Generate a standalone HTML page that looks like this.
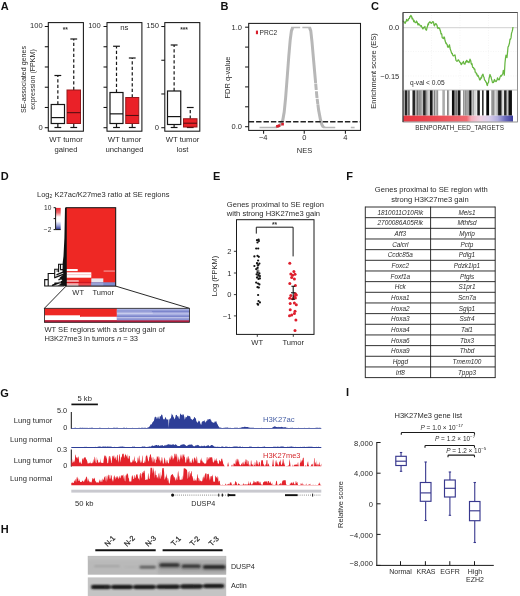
<!DOCTYPE html>
<html lang="en"><head><meta charset="utf-8"><title>Figure</title>
<style>html,body{margin:0;padding:0;background:#fff;}body{width:520px;height:596px;overflow:hidden;}svg{display:block;font-family:"Liberation Sans",Arial,Helvetica,sans-serif;fill:#2b2b2b;}</style></head><body>
<svg width="520" height="596" viewBox="0 0 520 596">
<rect width="520" height="596" fill="#fff"/>
<text x="0.70" y="9.80" font-size="11" font-weight="bold" fill="#111" >A</text>
<text x="220.40" y="9.90" font-size="11" font-weight="bold" fill="#111" >B</text>
<text x="371.00" y="9.80" font-size="11" font-weight="bold" fill="#111" >C</text>
<text x="0.80" y="180.00" font-size="11" font-weight="bold" fill="#111" >D</text>
<text x="213.00" y="180.00" font-size="11" font-weight="bold" fill="#111" >E</text>
<text x="346.30" y="180.30" font-size="11" font-weight="bold" fill="#111" >F</text>
<text x="0.30" y="397.00" font-size="11" font-weight="bold" fill="#111" >G</text>
<text x="0.80" y="532.50" font-size="11" font-weight="bold" fill="#111" >H</text>
<text x="346.00" y="396.30" font-size="11" font-weight="bold" fill="#111" >I</text>
<g id="panelA">
<rect x="48.30" y="22.60" width="35.10" height="108.60" fill="none" stroke="#151515" stroke-width="1.05" />
<rect x="107.00" y="22.60" width="34.90" height="108.60" fill="none" stroke="#151515" stroke-width="1.05" />
<rect x="164.80" y="22.60" width="35.00" height="108.60" fill="none" stroke="#151515" stroke-width="1.05" />
<line x1="44.80" y1="127.70" x2="48.30" y2="127.70" stroke="#151515" stroke-width="1.05" />
<line x1="44.80" y1="107.46" x2="48.30" y2="107.46" stroke="#151515" stroke-width="1.05" />
<line x1="44.80" y1="87.22" x2="48.30" y2="87.22" stroke="#151515" stroke-width="1.05" />
<line x1="44.80" y1="66.98" x2="48.30" y2="66.98" stroke="#151515" stroke-width="1.05" />
<line x1="44.80" y1="46.74" x2="48.30" y2="46.74" stroke="#151515" stroke-width="1.05" />
<line x1="44.80" y1="26.50" x2="48.30" y2="26.50" stroke="#151515" stroke-width="1.05" />
<line x1="103.50" y1="127.70" x2="107.00" y2="127.70" stroke="#151515" stroke-width="1.05" />
<line x1="103.50" y1="107.46" x2="107.00" y2="107.46" stroke="#151515" stroke-width="1.05" />
<line x1="103.50" y1="87.22" x2="107.00" y2="87.22" stroke="#151515" stroke-width="1.05" />
<line x1="103.50" y1="66.98" x2="107.00" y2="66.98" stroke="#151515" stroke-width="1.05" />
<line x1="103.50" y1="46.74" x2="107.00" y2="46.74" stroke="#151515" stroke-width="1.05" />
<line x1="103.50" y1="26.50" x2="107.00" y2="26.50" stroke="#151515" stroke-width="1.05" />
<line x1="161.30" y1="127.70" x2="164.80" y2="127.70" stroke="#151515" stroke-width="1.05" />
<line x1="161.30" y1="93.97" x2="164.80" y2="93.97" stroke="#151515" stroke-width="1.05" />
<line x1="161.30" y1="60.24" x2="164.80" y2="60.24" stroke="#151515" stroke-width="1.05" />
<line x1="161.30" y1="26.51" x2="164.80" y2="26.51" stroke="#151515" stroke-width="1.05" />
<text x="42.70" y="28.30" font-size="7.6" text-anchor="end" >100</text>
<text x="42.70" y="130.00" font-size="7.6" text-anchor="end" >0</text>
<text x="100.80" y="28.30" font-size="7.6" text-anchor="end" >100</text>
<text x="159.00" y="28.30" font-size="7.6" text-anchor="end" >150</text>
<text x="159.00" y="130.00" font-size="7.6" text-anchor="end" >0</text>
<line x1="57.85" y1="104.50" x2="57.85" y2="75.50" stroke="#151515" stroke-width="1.2" stroke-dasharray="3.3 2.2"/>
<line x1="57.85" y1="123.50" x2="57.85" y2="127.50" stroke="#151515" stroke-width="1.2" />
<line x1="54.45" y1="75.50" x2="61.25" y2="75.50" stroke="#151515" stroke-width="1.2" />
<line x1="54.45" y1="127.50" x2="61.25" y2="127.50" stroke="#151515" stroke-width="1.2" />
<rect x="51.20" y="104.50" width="13.30" height="19.00" fill="#fff" stroke="#151515" stroke-width="1.2" />
<line x1="51.20" y1="117.60" x2="64.50" y2="117.60" stroke="#151515" stroke-width="1.2" />
<line x1="73.75" y1="90.00" x2="73.75" y2="39.00" stroke="#151515" stroke-width="1.2" stroke-dasharray="3.3 2.2"/>
<line x1="73.75" y1="123.50" x2="73.75" y2="127.50" stroke="#151515" stroke-width="1.2" />
<line x1="70.35" y1="39.00" x2="77.15" y2="39.00" stroke="#151515" stroke-width="1.2" />
<line x1="70.35" y1="127.50" x2="77.15" y2="127.50" stroke="#151515" stroke-width="1.2" />
<rect x="67.00" y="90.00" width="13.50" height="33.50" fill="#ea2128" stroke="#96181b" stroke-width="1.0" />
<line x1="67.00" y1="112.70" x2="80.50" y2="112.70" stroke="#4a0d0f" stroke-width="1.0" />
<line x1="116.50" y1="92.50" x2="116.50" y2="46.25" stroke="#151515" stroke-width="1.2" stroke-dasharray="3.3 2.2"/>
<line x1="116.50" y1="123.50" x2="116.50" y2="127.50" stroke="#151515" stroke-width="1.2" />
<line x1="113.10" y1="46.25" x2="119.90" y2="46.25" stroke="#151515" stroke-width="1.2" />
<line x1="113.10" y1="127.50" x2="119.90" y2="127.50" stroke="#151515" stroke-width="1.2" />
<rect x="110.00" y="92.50" width="13.00" height="31.00" fill="#fff" stroke="#151515" stroke-width="1.2" />
<line x1="110.00" y1="113.85" x2="123.00" y2="113.85" stroke="#151515" stroke-width="1.2" />
<line x1="132.25" y1="97.50" x2="132.25" y2="58.00" stroke="#151515" stroke-width="1.2" stroke-dasharray="3.3 2.2"/>
<line x1="132.25" y1="123.50" x2="132.25" y2="127.50" stroke="#151515" stroke-width="1.2" />
<line x1="128.85" y1="58.00" x2="135.65" y2="58.00" stroke="#151515" stroke-width="1.2" />
<line x1="128.85" y1="127.50" x2="135.65" y2="127.50" stroke="#151515" stroke-width="1.2" />
<rect x="125.75" y="97.50" width="13.00" height="26.00" fill="#ea2128" stroke="#96181b" stroke-width="1.0" />
<line x1="125.75" y1="115.45" x2="138.75" y2="115.45" stroke="#4a0d0f" stroke-width="1.0" />
<line x1="174.12" y1="91.00" x2="174.12" y2="45.00" stroke="#151515" stroke-width="1.2" stroke-dasharray="3.3 2.2"/>
<line x1="174.12" y1="124.50" x2="174.12" y2="127.50" stroke="#151515" stroke-width="1.2" />
<line x1="170.72" y1="45.00" x2="177.53" y2="45.00" stroke="#151515" stroke-width="1.2" />
<line x1="170.72" y1="127.50" x2="177.53" y2="127.50" stroke="#151515" stroke-width="1.2" />
<rect x="167.50" y="91.00" width="13.25" height="33.50" fill="#fff" stroke="#151515" stroke-width="1.2" />
<line x1="167.50" y1="116.60" x2="180.75" y2="116.60" stroke="#151515" stroke-width="1.2" />
<line x1="190.25" y1="118.75" x2="190.25" y2="107.50" stroke="#151515" stroke-width="1.2" stroke-dasharray="3.3 2.2"/>
<line x1="190.25" y1="127.00" x2="190.25" y2="127.50" stroke="#151515" stroke-width="1.2" />
<line x1="186.85" y1="107.50" x2="193.65" y2="107.50" stroke="#151515" stroke-width="1.2" />
<line x1="186.85" y1="127.50" x2="193.65" y2="127.50" stroke="#151515" stroke-width="1.2" />
<rect x="183.50" y="118.75" width="13.50" height="8.25" fill="#ea2128" stroke="#96181b" stroke-width="1.0" />
<line x1="183.50" y1="123.20" x2="197.00" y2="123.20" stroke="#4a0d0f" stroke-width="1.0" />
<text x="65.20" y="31.60" font-size="6.6" text-anchor="middle" font-weight="bold" fill="#333" >**</text>
<text x="124.30" y="30.00" font-size="7.8" text-anchor="middle" >ns</text>
<text x="184.10" y="31.60" font-size="6.6" text-anchor="middle" font-weight="bold" fill="#333" >***</text>
<text x="66.00" y="142.30" font-size="7.7" text-anchor="middle" >WT tumor</text>
<text x="66.00" y="151.60" font-size="7.7" text-anchor="middle" >gained</text>
<text x="124.50" y="142.30" font-size="7.7" text-anchor="middle" >WT tumor</text>
<text x="124.50" y="151.60" font-size="7.7" text-anchor="middle" >unchanged</text>
<text x="182.50" y="142.30" font-size="7.7" text-anchor="middle" >WT tumor</text>
<text x="182.50" y="151.60" font-size="7.7" text-anchor="middle" >lost</text>
<text x="26.20" y="79.50" font-size="7.1" text-anchor="middle" transform="rotate(-90 26.20 79.50)" >SE-associated genes</text>
<text x="35.00" y="79.50" font-size="7.1" text-anchor="middle" transform="rotate(-90 35.00 79.50)" >expression (FPKM)</text>
</g>
<g id="panelB">
<path d="M259.55 127.50h2.9M260.00 127.50h2.9M260.46 127.50h2.9M260.91 127.50h2.9M261.36 127.50h2.9M261.82 127.50h2.9M262.27 127.50h2.9M262.72 127.50h2.9M263.18 127.50h2.9M263.63 127.50h2.9M264.08 127.50h2.9M264.53 127.50h2.9M264.99 127.50h2.9M265.44 127.50h2.9M265.89 127.50h2.9M266.35 127.50h2.9M266.80 127.50h2.9M267.25 127.50h2.9M267.71 127.50h2.9M268.16 127.50h2.9M268.61 127.50h2.9M269.07 127.50h2.9M269.52 127.50h2.9M269.97 127.50h2.9M270.43 127.50h2.9M270.88 127.50h2.9M271.33 127.50h2.9M271.78 127.50h2.9M272.24 127.50h2.9M272.69 127.50h2.9M273.14 127.50h2.9M273.60 127.50h2.9M274.05 127.50h2.9M274.05 127.50h2.9M274.55 127.35h2.9M275.05 127.20h2.9M275.55 127.05h2.9M276.05 126.90h2.9M276.55 126.75h2.9M277.05 126.60h2.9M277.05 126.60h2.9M277.36 126.27h2.9M277.68 125.95h2.9M277.99 125.62h2.9M278.30 125.30h2.9M278.61 124.97h2.9M278.93 124.65h2.9M279.24 124.33h2.9M279.55 124.00h2.9M279.55 124.00h2.9M279.75 123.56h2.9M279.95 123.11h2.9M280.15 122.67h2.9M280.35 122.22h2.9M280.55 121.78h2.9M280.75 121.33h2.9M280.95 120.89h2.9M281.15 120.44h2.9M281.35 120.00h2.9M281.35 120.00h2.9M281.43 119.56h2.9M281.51 119.11h2.9M281.58 118.67h2.9M281.66 118.22h2.9M281.74 117.78h2.9M281.82 117.33h2.9M281.89 116.89h2.9M281.97 116.44h2.9M282.05 116.00h2.9M282.13 115.56h2.9M282.21 115.11h2.9M282.28 114.67h2.9M282.36 114.22h2.9M282.44 113.78h2.9M282.52 113.33h2.9M282.59 112.89h2.9M282.67 112.44h2.9M282.75 112.00h2.9M282.75 112.00h2.9M282.80 111.55h2.9M282.84 111.10h2.9M282.89 110.65h2.9M282.93 110.19h2.9M282.98 109.74h2.9M283.02 109.29h2.9M283.07 108.84h2.9M283.11 108.39h2.9M283.16 107.94h2.9M283.20 107.48h2.9M283.25 107.03h2.9M283.29 106.58h2.9M283.34 106.13h2.9M283.38 105.68h2.9M283.43 105.23h2.9M283.47 104.77h2.9M283.52 104.32h2.9M283.56 103.87h2.9M283.61 103.42h2.9M283.65 102.97h2.9M283.70 102.52h2.9M283.74 102.06h2.9M283.79 101.61h2.9M283.83 101.16h2.9M283.88 100.71h2.9M283.92 100.26h2.9M283.97 99.81h2.9M284.01 99.35h2.9M284.06 98.90h2.9M284.10 98.45h2.9M284.15 98.00h2.9M284.15 98.00h2.9M284.18 97.55h2.9M284.22 97.10h2.9M284.25 96.65h2.9M284.29 96.20h2.9M284.32 95.76h2.9M284.36 95.31h2.9M284.39 94.86h2.9M284.43 94.41h2.9M284.46 93.96h2.9M284.50 93.51h2.9M284.53 93.06h2.9M284.57 92.61h2.9M284.60 92.16h2.9M284.64 91.71h2.9M284.67 91.27h2.9M284.71 90.82h2.9M284.74 90.37h2.9M284.77 89.92h2.9M284.81 89.47h2.9M284.84 89.02h2.9M284.88 88.57h2.9M284.91 88.12h2.9M284.95 87.67h2.9M284.98 87.22h2.9M285.02 86.78h2.9M285.05 86.33h2.9M285.09 85.88h2.9M285.12 85.43h2.9M285.16 84.98h2.9M285.19 84.53h2.9M285.23 84.08h2.9M285.26 83.63h2.9M285.29 83.18h2.9M285.33 82.73h2.9M285.36 82.29h2.9M285.40 81.84h2.9M285.43 81.39h2.9M285.47 80.94h2.9M285.50 80.49h2.9M285.54 80.04h2.9M285.57 79.59h2.9M285.61 79.14h2.9M285.64 78.69h2.9M285.68 78.24h2.9M285.71 77.80h2.9M285.75 77.35h2.9M285.78 76.90h2.9M285.82 76.45h2.9M285.85 76.00h2.9M285.85 76.00h2.9M285.88 75.55h2.9M285.92 75.09h2.9M285.95 74.64h2.9M285.99 74.18h2.9M286.02 73.73h2.9M286.05 73.27h2.9M286.09 72.82h2.9M286.12 72.36h2.9M286.16 71.91h2.9M286.19 71.45h2.9M286.23 71.00h2.9M286.26 70.55h2.9M286.29 70.09h2.9M286.33 69.64h2.9M286.36 69.18h2.9M286.40 68.73h2.9M286.43 68.27h2.9M286.46 67.82h2.9M286.50 67.36h2.9M286.53 66.91h2.9M286.57 66.45h2.9M286.60 66.00h2.9M286.63 65.55h2.9M286.67 65.09h2.9M286.70 64.64h2.9M286.74 64.18h2.9M286.77 63.73h2.9M286.80 63.27h2.9M286.84 62.82h2.9M286.87 62.36h2.9M286.91 61.91h2.9M286.94 61.45h2.9M286.98 61.00h2.9M287.01 60.55h2.9M287.04 60.09h2.9M287.08 59.64h2.9M287.11 59.18h2.9M287.15 58.73h2.9M287.18 58.27h2.9M287.21 57.82h2.9M287.25 57.36h2.9M287.28 56.91h2.9M287.32 56.45h2.9M287.35 56.00h2.9M287.35 56.00h2.9M287.39 55.54h2.9M287.43 55.09h2.9M287.47 54.63h2.9M287.51 54.17h2.9M287.55 53.71h2.9M287.59 53.26h2.9M287.63 52.80h2.9M287.67 52.34h2.9M287.71 51.89h2.9M287.75 51.43h2.9M287.79 50.97h2.9M287.83 50.51h2.9M287.87 50.06h2.9M287.91 49.60h2.9M287.95 49.14h2.9M287.99 48.69h2.9M288.03 48.23h2.9M288.07 47.77h2.9M288.11 47.31h2.9M288.15 46.86h2.9M288.19 46.40h2.9M288.23 45.94h2.9M288.27 45.49h2.9M288.31 45.03h2.9M288.35 44.57h2.9M288.39 44.11h2.9M288.43 43.66h2.9M288.47 43.20h2.9M288.51 42.74h2.9M288.55 42.29h2.9M288.59 41.83h2.9M288.63 41.37h2.9M288.67 40.91h2.9M288.71 40.46h2.9M288.75 40.00h2.9M288.75 40.00h2.9M288.81 39.55h2.9M288.87 39.10h2.9M288.93 38.65h2.9M288.99 38.20h2.9M289.05 37.75h2.9M289.11 37.30h2.9M289.17 36.85h2.9M289.23 36.40h2.9M289.29 35.95h2.9M289.35 35.50h2.9M289.41 35.05h2.9M289.47 34.60h2.9M289.53 34.15h2.9M289.59 33.70h2.9M289.65 33.25h2.9M289.71 32.80h2.9M289.77 32.35h2.9M289.83 31.90h2.9M289.89 31.45h2.9M289.95 31.00h2.9M289.95 31.00h2.9M290.10 30.57h2.9M290.25 30.15h2.9M290.40 29.73h2.9M290.55 29.30h2.9M290.70 28.88h2.9M290.85 28.45h2.9M291.00 28.03h2.9M291.15 27.60h2.9M291.15 27.60h2.9M291.62 27.60h2.9M292.09 27.60h2.9M292.56 27.60h2.9M293.03 27.60h2.9M293.50 27.60h2.9M293.97 27.60h2.9M294.43 27.60h2.9M294.90 27.60h2.9M295.37 27.60h2.9M295.84 27.60h2.9M296.31 27.60h2.9M296.78 27.60h2.9M297.25 27.60h2.9" fill="none" stroke="#b7b7b7" stroke-width="1.5" />
<path d="M302.35 27.60h2.9M302.83 27.60h2.9M303.32 27.60h2.9M303.80 27.60h2.9M304.28 27.60h2.9M304.77 27.60h2.9M305.25 27.60h2.9M305.73 27.60h2.9M306.22 27.60h2.9M306.70 27.60h2.9M307.18 27.60h2.9M307.67 27.60h2.9M308.15 27.60h2.9M308.15 27.60h2.9M308.30 28.03h2.9M308.45 28.45h2.9M308.60 28.88h2.9M308.75 29.30h2.9M308.90 29.73h2.9M309.05 30.15h2.9M309.20 30.57h2.9M309.35 31.00h2.9M309.35 31.00h2.9M309.40 31.46h2.9M309.45 31.92h2.9M309.50 32.38h2.9M309.55 32.83h2.9M309.60 33.29h2.9M309.65 33.75h2.9M309.70 34.21h2.9M309.75 34.67h2.9M309.80 35.12h2.9M309.85 35.58h2.9M309.90 36.04h2.9M309.95 36.50h2.9M310.00 36.96h2.9M310.05 37.42h2.9M310.10 37.88h2.9M310.15 38.33h2.9M310.20 38.79h2.9M310.25 39.25h2.9M310.30 39.71h2.9M310.35 40.17h2.9M310.40 40.62h2.9M310.45 41.08h2.9M310.50 41.54h2.9M310.55 42.00h2.9M310.55 42.00h2.9M310.59 42.46h2.9M310.63 42.91h2.9M310.67 43.37h2.9M310.71 43.83h2.9M310.75 44.29h2.9M310.79 44.74h2.9M310.83 45.20h2.9M310.87 45.66h2.9M310.91 46.11h2.9M310.95 46.57h2.9M310.99 47.03h2.9M311.03 47.49h2.9M311.07 47.94h2.9M311.11 48.40h2.9M311.15 48.86h2.9M311.19 49.31h2.9M311.23 49.77h2.9M311.27 50.23h2.9M311.31 50.69h2.9M311.35 51.14h2.9M311.39 51.60h2.9M311.43 52.06h2.9M311.47 52.51h2.9M311.51 52.97h2.9M311.55 53.43h2.9M311.59 53.89h2.9M311.63 54.34h2.9M311.67 54.80h2.9M311.71 55.26h2.9M311.75 55.71h2.9M311.79 56.17h2.9M311.83 56.63h2.9M311.87 57.09h2.9M311.91 57.54h2.9M311.95 58.00h2.9M311.95 58.00h2.9M311.99 58.45h2.9M312.03 58.90h2.9M312.07 59.35h2.9M312.11 59.80h2.9M312.15 60.25h2.9M312.19 60.70h2.9M312.23 61.15h2.9M312.27 61.60h2.9M312.31 62.05h2.9M312.35 62.50h2.9M312.39 62.95h2.9M312.43 63.40h2.9M312.47 63.85h2.9M312.51 64.30h2.9M312.55 64.75h2.9M312.59 65.20h2.9M312.63 65.65h2.9M312.67 66.10h2.9M312.71 66.55h2.9M312.75 67.00h2.9M312.79 67.45h2.9M312.83 67.90h2.9M312.87 68.35h2.9M312.91 68.80h2.9M312.95 69.25h2.9M312.99 69.70h2.9M313.03 70.15h2.9M313.07 70.60h2.9M313.11 71.05h2.9M313.15 71.50h2.9M313.19 71.95h2.9M313.23 72.40h2.9M313.27 72.85h2.9M313.31 73.30h2.9M313.35 73.75h2.9M313.39 74.20h2.9M313.43 74.65h2.9M313.47 75.10h2.9M313.51 75.55h2.9M313.55 76.00h2.9M313.55 76.00h2.9M313.59 76.45h2.9M313.63 76.91h2.9M313.67 77.36h2.9M313.71 77.82h2.9M313.75 78.27h2.9M313.80 78.73h2.9M313.84 79.18h2.9M313.88 79.64h2.9M313.92 80.09h2.9M313.96 80.55h2.9M314.00 81.00h2.9M314.04 81.45h2.9M314.08 81.91h2.9M314.12 82.36h2.9M314.29 84.18h2.9M314.33 84.64h2.9M314.37 85.09h2.9M314.41 85.55h2.9M314.45 86.00h2.9M314.49 86.45h2.9M314.53 86.91h2.9M314.57 87.36h2.9M314.61 87.82h2.9M314.65 88.27h2.9M314.70 88.73h2.9M314.74 89.18h2.9M314.98 91.91h2.9M315.02 92.36h2.9M315.06 92.82h2.9M315.10 93.27h2.9M315.15 93.73h2.9M315.19 94.18h2.9M315.23 94.64h2.9M315.27 95.09h2.9M315.31 95.55h2.9M315.35 96.00h2.9M315.35 96.00h2.9M315.41 96.45h2.9M315.47 96.90h2.9M315.52 97.35h2.9M315.81 99.61h2.9M315.87 100.06h2.9M315.93 100.52h2.9M315.99 100.97h2.9M316.05 101.42h2.9M316.10 101.87h2.9M316.16 102.32h2.9M316.22 102.77h2.9M316.28 103.23h2.9M316.51 105.03h2.9M316.57 105.48h2.9M316.63 105.94h2.9M316.69 106.39h2.9M316.74 106.84h2.9M316.80 107.29h2.9M316.86 107.74h2.9M316.92 108.19h2.9M316.98 108.65h2.9M317.03 109.10h2.9M317.09 109.55h2.9M317.15 110.00h2.9M317.15 110.00h2.9M317.24 110.45h2.9M317.32 110.90h2.9M317.41 111.35h2.9M317.49 111.80h2.9M317.58 112.25h2.9M317.66 112.70h2.9M317.75 113.15h2.9M317.83 113.60h2.9M317.92 114.05h2.9M318.00 114.50h2.9M318.09 114.95h2.9M318.17 115.40h2.9M318.26 115.85h2.9M318.34 116.30h2.9M318.43 116.75h2.9M318.51 117.20h2.9M318.60 117.65h2.9M318.68 118.10h2.9M318.77 118.55h2.9M318.85 119.00h2.9M318.85 119.00h2.9M318.97 119.45h2.9M319.09 119.91h2.9M319.20 120.36h2.9M319.32 120.82h2.9M319.44 121.27h2.9M319.56 121.73h2.9M319.68 122.18h2.9M319.80 122.64h2.9M319.91 123.09h2.9M320.03 123.55h2.9M320.15 124.00h2.9M320.15 124.00h2.9M320.38 124.47h2.9M320.62 124.93h2.9M320.85 125.40h2.9M321.08 125.87h2.9M321.32 126.33h2.9M321.55 126.80h2.9M321.55 126.80h2.9M322.05 127.03h2.9M322.55 127.27h2.9M323.05 127.50h2.9M323.05 127.50h2.9M323.51 127.50h2.9M323.98 127.50h2.9M324.44 127.50h2.9M324.91 127.50h2.9M325.38 127.50h2.9M325.84 127.50h2.9M326.31 127.50h2.9M326.77 127.50h2.9M327.24 127.50h2.9M327.70 127.50h2.9M328.17 127.50h2.9M328.63 127.50h2.9M329.10 127.50h2.9M329.56 127.50h2.9M330.03 127.50h2.9M330.49 127.50h2.9M330.96 127.50h2.9M331.42 127.50h2.9M331.89 127.50h2.9M332.35 127.50h2.9" fill="none" stroke="#b7b7b7" stroke-width="1.5" />
<line x1="350.80" y1="127.50" x2="354.60" y2="127.50" stroke="#b7b7b7" stroke-width="1.5" />
<line x1="248.70" y1="121.75" x2="360.50" y2="121.75" stroke="#222" stroke-width="1.5" stroke-dasharray="5.4 2.0"/>
<rect x="276.10" y="125.00" width="2.60" height="2.60" fill="#d81e2c" />
<rect x="277.70" y="124.40" width="2.60" height="2.60" fill="#d81e2c" />
<rect x="281.30" y="122.90" width="2.60" height="2.60" fill="#d81e2c" />
<rect x="248.70" y="23.40" width="111.80" height="107.00" fill="none" stroke="#1a1a1a" stroke-width="1.05" />
<line x1="245.10" y1="27.20" x2="248.70" y2="27.20" stroke="#1a1a1a" stroke-width="1.05" />
<line x1="245.10" y1="47.10" x2="248.70" y2="47.10" stroke="#1a1a1a" stroke-width="1.05" />
<line x1="245.10" y1="67.00" x2="248.70" y2="67.00" stroke="#1a1a1a" stroke-width="1.05" />
<line x1="245.10" y1="86.90" x2="248.70" y2="86.90" stroke="#1a1a1a" stroke-width="1.05" />
<line x1="245.10" y1="106.80" x2="248.70" y2="106.80" stroke="#1a1a1a" stroke-width="1.05" />
<line x1="245.10" y1="126.70" x2="248.70" y2="126.70" stroke="#1a1a1a" stroke-width="1.05" />
<line x1="263.60" y1="130.40" x2="263.60" y2="133.80" stroke="#1a1a1a" stroke-width="1.05" />
<line x1="304.25" y1="130.40" x2="304.25" y2="133.80" stroke="#1a1a1a" stroke-width="1.05" />
<line x1="345.40" y1="130.40" x2="345.40" y2="133.80" stroke="#1a1a1a" stroke-width="1.05" />
<text x="242.00" y="29.70" font-size="7.5" text-anchor="end" >1.0</text>
<text x="242.00" y="129.30" font-size="7.5" text-anchor="end" >0.0</text>
<text x="263.20" y="140.30" font-size="7.5" text-anchor="middle" >−4</text>
<text x="304.25" y="140.30" font-size="7.5" text-anchor="middle" >0</text>
<text x="345.40" y="140.30" font-size="7.5" text-anchor="middle" >4</text>
<text x="304.50" y="153.20" font-size="7.5" text-anchor="middle" >NES</text>
<text x="229.60" y="77.50" font-size="7.5" text-anchor="middle" transform="rotate(-90 229.60 77.50)" >FDR q-value</text>
<rect x="255.90" y="30.60" width="2.10" height="3.60" fill="#d81e2c" />
<text x="259.50" y="35.10" font-size="6.6" >PRC2</text>
</g>
<g id="panelC">
<line x1="403.00" y1="51.50" x2="517.50" y2="51.50" stroke="#efefef" stroke-width="0.6" stroke-dasharray="1 1.5"/>
<line x1="403.00" y1="76.00" x2="517.50" y2="76.00" stroke="#efefef" stroke-width="0.6" stroke-dasharray="1 1.5"/>
<line x1="431.50" y1="12.50" x2="431.50" y2="90.00" stroke="#efefef" stroke-width="0.6" stroke-dasharray="1 1.5"/>
<line x1="460.00" y1="12.50" x2="460.00" y2="90.00" stroke="#efefef" stroke-width="0.6" stroke-dasharray="1 1.5"/>
<line x1="488.50" y1="12.50" x2="488.50" y2="90.00" stroke="#efefef" stroke-width="0.6" stroke-dasharray="1 1.5"/>
<line x1="403.00" y1="27.70" x2="517.50" y2="27.70" stroke="#c4c4c4" stroke-width="0.8" />
<rect x="403.00" y="90.00" width="114.50" height="25.50" fill="#fff" />
<rect x="403.00" y="90.20" width="0.62" height="25.40" fill="#7c7c7c" />
<rect x="404.10" y="90.20" width="0.62" height="25.40" fill="#6e6e6e" />
<rect x="405.08" y="90.20" width="1.85" height="25.40" fill="#141414" />
<rect x="406.92" y="90.20" width="0.62" height="25.40" fill="#484848" />
<rect x="408.02" y="90.20" width="0.62" height="25.40" fill="#0d0d0d" />
<rect x="409.12" y="90.20" width="0.62" height="25.40" fill="#3d3d3d" />
<rect x="412.46" y="90.20" width="2.54" height="25.40" fill="#262626" />
<rect x="415.00" y="90.20" width="0.62" height="25.40" fill="#7b7b7b" />
<rect x="416.10" y="90.20" width="0.62" height="25.40" fill="#646464" />
<rect x="417.20" y="90.20" width="0.11" height="25.40" fill="#868686" />
<rect x="417.31" y="90.20" width="0.62" height="25.40" fill="#181818" />
<rect x="418.41" y="90.20" width="0.62" height="25.40" fill="#555555" />
<rect x="419.51" y="90.20" width="0.62" height="25.40" fill="#1d1d1d" />
<rect x="420.61" y="90.20" width="0.62" height="25.40" fill="#212121" />
<rect x="421.71" y="90.20" width="0.62" height="25.40" fill="#545454" />
<rect x="422.81" y="90.20" width="0.27" height="25.40" fill="#919191" />
<rect x="423.08" y="90.20" width="2.31" height="25.40" fill="#262626" />
<rect x="425.39" y="90.20" width="0.62" height="25.40" fill="#262626" />
<rect x="426.49" y="90.20" width="0.62" height="25.40" fill="#353535" />
<rect x="427.59" y="90.20" width="0.62" height="25.40" fill="#737373" />
<rect x="428.69" y="90.20" width="0.62" height="25.40" fill="#a4a4a4" />
<rect x="429.79" y="90.20" width="0.22" height="25.40" fill="#6b6b6b" />
<rect x="430.00" y="90.20" width="2.31" height="25.40" fill="#191919" />
<rect x="432.31" y="90.20" width="0.62" height="25.40" fill="#3d3d3d" />
<rect x="433.41" y="90.20" width="0.62" height="25.40" fill="#a5a5a5" />
<rect x="434.51" y="90.20" width="0.62" height="25.40" fill="#000000" />
<rect x="435.61" y="90.20" width="0.62" height="25.40" fill="#909090" />
<rect x="436.71" y="90.20" width="0.62" height="25.40" fill="#2a2a2a" />
<rect x="437.81" y="90.20" width="0.27" height="25.40" fill="#101010" />
<rect x="442.70" y="90.20" width="0.62" height="25.40" fill="#424242" />
<rect x="443.80" y="90.20" width="0.62" height="25.40" fill="#555555" />
<rect x="444.90" y="90.20" width="0.11" height="25.40" fill="#898989" />
<rect x="447.31" y="90.20" width="0.62" height="25.40" fill="#3f3f3f" />
<rect x="448.41" y="90.20" width="0.62" height="25.40" fill="#676767" />
<rect x="449.51" y="90.20" width="0.11" height="25.40" fill="#6d6d6d" />
<rect x="451.93" y="90.20" width="2.31" height="25.40" fill="#0f0f0f" />
<rect x="454.23" y="90.20" width="0.62" height="25.40" fill="#2c2c2c" />
<rect x="455.33" y="90.20" width="0.62" height="25.40" fill="#3e3e3e" />
<rect x="456.43" y="90.20" width="0.62" height="25.40" fill="#0c0c0c" />
<rect x="457.53" y="90.20" width="0.16" height="25.40" fill="#0c0c0c" />
<rect x="457.70" y="90.20" width="2.77" height="25.40" fill="#191919" />
<rect x="463.24" y="90.20" width="0.62" height="25.40" fill="#545454" />
<rect x="464.34" y="90.20" width="0.62" height="25.40" fill="#858585" />
<rect x="465.44" y="90.20" width="0.11" height="25.40" fill="#6b6b6b" />
<rect x="465.54" y="90.20" width="0.62" height="25.40" fill="#262626" />
<rect x="466.64" y="90.20" width="0.62" height="25.40" fill="#424242" />
<rect x="467.74" y="90.20" width="0.62" height="25.40" fill="#343434" />
<rect x="468.84" y="90.20" width="0.39" height="25.40" fill="#242424" />
<rect x="469.24" y="90.20" width="2.31" height="25.40" fill="#0c0c0c" />
<rect x="471.54" y="90.20" width="0.62" height="25.40" fill="#7d7d7d" />
<rect x="472.64" y="90.20" width="0.62" height="25.40" fill="#737373" />
<rect x="473.39" y="90.20" width="0.62" height="25.40" fill="#818181" />
<rect x="474.49" y="90.20" width="0.62" height="25.40" fill="#b3b3b3" />
<rect x="475.59" y="90.20" width="0.62" height="25.40" fill="#acacac" />
<rect x="476.69" y="90.20" width="0.62" height="25.40" fill="#e1e1e1" />
<rect x="477.31" y="90.20" width="2.54" height="25.40" fill="#191919" />
<rect x="482.16" y="90.20" width="1.38" height="25.40" fill="#0c0c0c" />
<rect x="486.31" y="90.20" width="2.77" height="25.40" fill="#070707" />
<rect x="491.16" y="90.20" width="0.62" height="25.40" fill="#808080" />
<rect x="492.26" y="90.20" width="0.62" height="25.40" fill="#535353" />
<rect x="493.36" y="90.20" width="0.11" height="25.40" fill="#9a9a9a" />
<rect x="493.47" y="90.20" width="0.62" height="25.40" fill="#373737" />
<rect x="494.57" y="90.20" width="0.62" height="25.40" fill="#757575" />
<rect x="495.67" y="90.20" width="0.62" height="25.40" fill="#bababa" />
<rect x="496.77" y="90.20" width="0.62" height="25.40" fill="#3e3e3e" />
<rect x="497.87" y="90.20" width="0.22" height="25.40" fill="#838383" />
<rect x="498.08" y="90.20" width="3.46" height="25.40" fill="#1e1e1e" />
<rect x="501.55" y="90.20" width="0.62" height="25.40" fill="#676767" />
<rect x="502.65" y="90.20" width="0.62" height="25.40" fill="#b8b8b8" />
<rect x="503.75" y="90.20" width="0.34" height="25.40" fill="#c4c4c4" />
<rect x="504.08" y="90.20" width="2.54" height="25.40" fill="#262626" />
<rect x="506.62" y="90.20" width="0.62" height="25.40" fill="#707070" />
<rect x="507.72" y="90.20" width="0.62" height="25.40" fill="#8f8f8f" />
<rect x="508.47" y="90.20" width="3.46" height="25.40" fill="#0f0f0f" />
<defs><linearGradient id="gC" x1="0" x2="1" y1="0" y2="0"><stop offset="0" stop-color="#e63640"/><stop offset="0.3" stop-color="#ea4a53"/><stop offset="0.58" stop-color="#ee6a72"/><stop offset="0.62" stop-color="#f5aebb"/><stop offset="0.70" stop-color="#f1d0e2"/><stop offset="0.78" stop-color="#dcd0ec"/><stop offset="0.86" stop-color="#b3aede"/><stop offset="0.93" stop-color="#6a6abc"/><stop offset="1" stop-color="#3b3c9c"/></linearGradient></defs>
<rect x="403.00" y="115.60" width="110.00" height="6.00" fill="url(#gC)" />
<path d="M403.0 20.6 L403.4 21.8 L403.8 21.8 L404.2 22.1 L404.6 22.1 L405.0 23.3 L405.4 23.1 L405.8 21.4 L406.2 21.4 L406.6 19.4 L407.0 20.5 L407.4 20.2 L407.8 20.8 L408.2 20.2 L408.6 18.7 L409.0 18.7 L409.4 18.7 L409.9 16.5 L410.4 16.8 L410.8 15.4 L411.2 16.0 L411.6 16.5 L412.1 18.9 L412.5 18.1 L412.9 19.0 L413.3 19.9 L413.7 21.7 L414.1 20.4 L414.5 21.9 L414.9 22.0 L415.3 22.7 L415.7 22.5 L416.1 22.5 L416.5 21.0 L416.9 21.9 L417.3 22.4 L417.7 24.2 L418.1 25.0 L418.5 23.7 L418.9 24.0 L419.3 24.5 L419.7 24.8 L420.1 25.7 L420.5 26.2 L420.9 25.8 L421.3 25.6 L421.7 27.0 L422.1 27.3 L422.5 28.2 L422.9 28.9 L423.3 28.1 L423.7 27.4 L424.1 27.5 L424.5 27.4 L424.9 26.4 L425.3 29.0 L425.7 29.2 L426.1 29.9 L426.5 30.2 L427.0 27.7 L427.5 26.3 L428.0 24.0 L428.4 24.8 L428.8 22.9 L429.2 22.5 L429.6 22.3 L430.0 21.7 L430.5 22.8 L431.0 22.8 L431.5 23.3 L432.0 22.8 L432.5 21.9 L433.0 21.7 L433.5 22.0 L434.0 25.2 L434.5 25.8 L435.0 24.2 L435.5 23.9 L436.0 23.6 L436.5 24.7 L437.0 25.1 L437.5 27.8 L438.0 28.5 L438.5 27.6 L439.0 28.0 L439.4 28.0 L439.8 29.0 L440.2 30.6 L440.6 31.4 L441.0 33.8 L441.4 33.4 L441.8 34.3 L442.2 37.7 L442.6 37.9 L443.0 38.2 L443.5 38.6 L444.0 36.9 L444.5 37.6 L445.0 40.5 L445.5 42.0 L446.0 43.5 L446.4 43.2 L446.8 44.3 L447.2 44.6 L447.6 46.9 L448.0 47.1 L448.5 47.2 L449.0 45.6 L449.5 44.8 L449.9 47.5 L450.3 49.3 L450.7 50.2 L451.1 51.4 L451.5 52.8 L451.9 53.6 L452.3 53.3 L452.7 55.0 L453.1 55.7 L453.5 55.9 L454.0 55.4 L454.5 55.5 L455.0 54.9 L455.5 57.8 L456.0 60.3 L456.5 60.9 L457.0 61.4 L457.5 60.8 L458.0 60.1 L458.5 59.8 L459.0 60.7 L459.5 61.8 L460.0 62.3 L460.5 62.8 L461.0 64.3 L461.4 64.6 L461.8 64.0 L462.2 62.8 L462.6 62.8 L463.0 62.7 L463.4 61.3 L463.8 63.0 L464.2 63.9 L464.6 63.9 L465.0 64.1 L465.4 62.7 L465.8 61.3 L466.2 62.1 L466.6 60.3 L467.0 60.7 L467.5 62.0 L468.0 61.4 L468.5 62.3 L469.0 62.7 L469.5 61.4 L470.0 59.2 L470.4 60.0 L470.8 61.0 L471.2 63.7 L471.6 64.3 L472.0 63.7 L472.4 66.2 L472.8 67.5 L473.2 67.6 L473.6 67.7 L474.0 69.1 L474.4 68.8 L474.8 69.2 L475.2 72.2 L475.6 72.2 L476.0 72.6 L476.4 74.2 L476.8 73.7 L477.2 75.5 L477.6 76.1 L478.0 75.3 L478.4 76.3 L478.8 77.3 L479.2 78.1 L479.6 79.8 L480.0 79.9 L480.5 79.1 L481.0 77.3 L481.5 78.0 L482.0 75.6 L482.5 74.9 L483.0 74.2 L483.5 76.6 L484.0 77.1 L484.5 80.0 L485.0 80.0 L485.5 81.1 L486.0 82.1 L486.4 82.3 L486.9 84.7 L487.3 85.5 L487.9 83.0 L488.5 82.7 L489.0 78.5 L489.5 76.6 L490.0 74.5 L490.5 75.8 L491.0 76.9 L491.5 79.0 L492.0 80.6 L492.5 82.7 L493.0 82.6 L493.5 82.5 L494.0 80.6 L494.5 79.5 L495.0 81.2 L495.5 81.0 L496.0 81.6 L496.5 81.0 L497.0 80.2 L497.5 77.9 L498.0 78.9 L498.5 79.3 L499.0 80.0 L499.5 79.1 L500.0 77.2 L500.5 76.1 L501.0 75.4 L501.5 76.1 L502.0 75.0 L502.4 74.2 L502.9 73.2 L503.3 70.4 L503.8 72.6 L504.3 75.1 L505.0 62.8 L505.5 58.1 L506.0 55.1 L506.5 57.1 L507.0 57.5 L507.5 52.6 L508.0 47.0 L508.5 46.4 L509.0 44.7 L509.5 43.0 L510.0 39.2 L510.5 39.3 L511.0 37.9 L511.5 33.4 L512.0 31.9 L512.5 30.1 L513.0 27.0" fill="none" stroke="#66b640" stroke-width="1.25" stroke-linejoin="round"/>
<rect x="403.00" y="12.50" width="114.50" height="109.50" fill="none" stroke="#777" stroke-width="0.8" />
<line x1="403.00" y1="12.50" x2="403.00" y2="122.00" stroke="#333" stroke-width="1.0" />
<line x1="403.00" y1="12.50" x2="517.50" y2="12.50" stroke="#444" stroke-width="0.9" />
<line x1="403.00" y1="90.00" x2="517.50" y2="90.00" stroke="#9a9a9a" stroke-width="0.6" />
<text x="399.30" y="29.50" font-size="7.5" text-anchor="end" >0.0</text>
<text x="399.30" y="78.50" font-size="7.5" text-anchor="end" >−0.15</text>
<text x="410.00" y="85.30" font-size="6.6" >q-val &lt; 0.05</text>
<text x="459.60" y="129.90" font-size="6.35" text-anchor="middle" >BENPORATH_EED_TARGETS</text>
<text x="376.40" y="71.00" font-size="7.5" text-anchor="middle" transform="rotate(-90 376.40 71.00)" >Enrichment score (ES)</text>
</g>
<g id="panelD">
<text x="37.00" y="196.60" font-size="7.5" >Log<tspan font-size="5" dy="1.6">2</tspan><tspan dy="-1.6"> K27ac/K27me3 ratio at SE regions</tspan></text>
<rect x="66.10" y="207.70" width="49.60" height="78.40" fill="#ee2824" />
<rect x="66.10" y="269.00" width="11.60" height="2.10" fill="#ffffff" />
<rect x="103.60" y="270.60" width="11.30" height="0.90" fill="#f6b9bb" />
<rect x="66.10" y="272.30" width="25.20" height="5.40" fill="#ffffff" />
<rect x="66.10" y="274.50" width="25.20" height="0.60" fill="#f4a0a4" />
<rect x="91.30" y="278.40" width="12.00" height="3.60" fill="#e9e6ee" />
<rect x="66.10" y="280.40" width="12.60" height="1.40" fill="#ffffff" />
<rect x="66.10" y="280.90" width="12.60" height="0.45" fill="#ee5258" />
<rect x="66.10" y="281.90" width="25.20" height="1.50" fill="#d0161f" />
<rect x="66.10" y="283.50" width="12.60" height="2.60" fill="#ffffff" />
<rect x="78.70" y="283.50" width="12.60" height="2.60" fill="#ee5a60" />
<rect x="66.10" y="284.60" width="25.20" height="0.50" fill="#e8343b" />
<rect x="91.30" y="282.30" width="24.40" height="3.80" fill="#7e8acb" />
<rect x="91.30" y="282.30" width="12.00" height="3.80" fill="#98a2d6" />
<rect x="66.10" y="207.70" width="49.60" height="78.40" fill="none" stroke="#111" stroke-width="1.0" />
<path d="M66.39999999999999 207.7 L65.0 207.7 L64.39999999999999 238 L63.49999999999999 256 L62.699999999999996 263 L62.49999999999999 271 L63.49999999999999 274 L64.89999999999999 286 L66.39999999999999 286 Z" fill="#111" />
<path d="M48.1 279.6 L44.7 279.6 L44.7 286.0 L64.5 286.0 M54.6 273.5 L48.2 273.5 L48.2 285.4 M58.5 269.2 L54.7 269.2 L54.7 277.6 M63.5 264.2 L58.6 264.2 L58.6 272.2 M60.5 264.6 L60.5 269.6 L63.4 269.6 M56.5 271.0 L58.6 271.0" fill="none" stroke="#111" stroke-width="1.1" stroke-linejoin="miter"/>
<path d="M54.8 277.6 L65.6 273.4 M52.6 285.2 L65.6 280.2 M55.0 283.3 L65.4 282.0 M57.0 274.6 L64.8 271.4 M59.0 279.6 L65.4 276.6" fill="none" stroke="#111" stroke-width="1.5" stroke-linecap="round"/>
<path d="M59.6 277.8 L65.8 272.4 L65.8 286 L57.5 285.6 L61.5 283.4 L58.2 282.6 L62.5 280.4 Z" fill="#111" />
<rect x="58.00" y="281.40" width="3.00" height="0.90" fill="#e0e0e0" />
<defs><linearGradient id="gD" x1="0" x2="0" y1="0" y2="1"><stop offset="0" stop-color="#e8242c"/><stop offset="0.22" stop-color="#ef6a6e"/><stop offset="0.42" stop-color="#ffffff"/><stop offset="0.62" stop-color="#ffffff"/><stop offset="0.8" stop-color="#a6aede"/><stop offset="1" stop-color="#2c3594"/></linearGradient></defs>
<rect x="56.00" y="207.90" width="4.70" height="21.60" fill="url(#gD)" />
<path d="M53.6 207.7 L55.6 207.7 L55.6 229.6 L60.7 229.6 M53.6 229.6 L55.6 229.6 M53.6 218.6 L55.6 218.6" fill="none" stroke="#111" stroke-width="1.0" />
<text x="51.40" y="210.20" font-size="6.6" text-anchor="end" >10</text>
<text x="51.40" y="231.60" font-size="6.6" text-anchor="end" >−2</text>
<text x="78.20" y="294.90" font-size="7.5" text-anchor="middle" >WT</text>
<text x="103.20" y="294.90" font-size="7.5" text-anchor="middle" >Tumor</text>
<line x1="66.10" y1="286.10" x2="44.40" y2="308.30" stroke="#111" stroke-width="0.9" />
<line x1="115.70" y1="286.10" x2="189.40" y2="308.30" stroke="#111" stroke-width="0.9" />
<rect x="44.40" y="308.30" width="72.50" height="14.00" fill="#ee2824" />
<rect x="44.40" y="315.30" width="35.60" height="1.70" fill="#ffffff" />
<rect x="44.40" y="317.00" width="72.50" height="3.30" fill="#ffffff" />
<rect x="80.40" y="316.20" width="36.50" height="0.80" fill="#f07075" />
<rect x="116.90" y="308.30" width="72.50" height="14.00" fill="#a9b0e2" />
<rect x="116.90" y="310.50" width="72.50" height="2.10" fill="#7c85cc" />
<rect x="116.90" y="310.50" width="35.00" height="2.10" fill="#959dd8" />
<rect x="116.90" y="312.70" width="36.00" height="0.80" fill="#e6e8f7" />
<rect x="152.90" y="312.70" width="36.50" height="0.80" fill="#c3c8ec" />
<rect x="116.90" y="315.40" width="72.50" height="2.00" fill="#7c85cc" />
<rect x="116.90" y="317.50" width="72.50" height="0.80" fill="#dfe2f5" />
<rect x="116.90" y="318.30" width="72.50" height="2.00" fill="#8d95d4" />
<rect x="44.40" y="320.30" width="145.00" height="2.00" fill="#b31f3f" />
<rect x="44.40" y="308.30" width="145.00" height="14.00" fill="none" stroke="#222" stroke-width="0.8" />
<text x="44.40" y="331.60" font-size="7.57" >WT SE regions with a strong gain of</text>
<text x="44.40" y="341.30" font-size="7.5" >H3K27me3 in tumors <tspan font-style="italic">n</tspan> = 33</text>
</g>
<g id="panelE">
<text x="226.80" y="206.60" font-size="7.6" >Genes proximal to SE region</text>
<text x="226.80" y="216.40" font-size="7.6" >with strong H3K27me3 gain</text>
<rect x="236.50" y="219.70" width="77.50" height="114.70" fill="none" stroke="#1a1a1a" stroke-width="1.0" />
<line x1="233.90" y1="251.30" x2="236.50" y2="251.30" stroke="#222" stroke-width="0.9" />
<text x="231.40" y="254.00" font-size="7.5" text-anchor="end" >2</text>
<line x1="233.90" y1="273.00" x2="236.50" y2="273.00" stroke="#222" stroke-width="0.9" />
<text x="231.40" y="275.70" font-size="7.5" text-anchor="end" >1</text>
<line x1="233.90" y1="294.60" x2="236.50" y2="294.60" stroke="#222" stroke-width="0.9" />
<text x="231.40" y="297.30" font-size="7.5" text-anchor="end" >0</text>
<line x1="233.90" y1="315.90" x2="236.50" y2="315.90" stroke="#222" stroke-width="0.9" />
<text x="231.40" y="318.60" font-size="7.5" text-anchor="end" >−1</text>
<line x1="257.30" y1="334.40" x2="257.30" y2="336.80" stroke="#222" stroke-width="0.9" />
<line x1="293.30" y1="334.40" x2="293.30" y2="336.80" stroke="#222" stroke-width="0.9" />
<text x="257.20" y="345.10" font-size="7.6" text-anchor="middle" >WT</text>
<text x="293.30" y="345.10" font-size="7.6" text-anchor="middle" >Tumor</text>
<text x="216.60" y="276.00" font-size="7.5" text-anchor="middle" transform="rotate(-90 216.60 276.00)" >Log (FPKM)</text>
<path d="M256.3 233.6 L256.3 227.2 L293.1 227.2 L293.1 256.4" fill="none" stroke="#1a1a1a" stroke-width="1.0" />
<text x="274.60" y="227.00" font-size="6.6" text-anchor="middle" font-weight="bold" fill="#333" >**</text>
<circle cx="257" cy="240.2" r="1.12" fill="#111"/>
<circle cx="258.6" cy="239.6" r="1.12" fill="#111"/>
<circle cx="257.5" cy="242.5" r="1.12" fill="#111"/>
<circle cx="258.9" cy="241" r="1.12" fill="#111"/>
<circle cx="256.2" cy="248.5" r="1.12" fill="#111"/>
<circle cx="258.2" cy="248.5" r="1.12" fill="#111"/>
<circle cx="254.4" cy="256.4" r="1.12" fill="#111"/>
<circle cx="257.5" cy="255.8" r="1.12" fill="#111"/>
<circle cx="258.8" cy="256.8" r="1.12" fill="#111"/>
<circle cx="258.1" cy="260.5" r="1.12" fill="#111"/>
<circle cx="257" cy="263.2" r="1.12" fill="#111"/>
<circle cx="259.4" cy="263.6" r="1.12" fill="#111"/>
<circle cx="258.1" cy="265.1" r="1.12" fill="#111"/>
<circle cx="254.4" cy="266" r="1.12" fill="#111"/>
<circle cx="257.5" cy="267.8" r="1.12" fill="#111"/>
<circle cx="256.2" cy="269.1" r="1.12" fill="#111"/>
<circle cx="257.5" cy="272.5" r="1.12" fill="#111"/>
<circle cx="259.4" cy="273.4" r="1.12" fill="#111"/>
<circle cx="256.6" cy="274.3" r="1.12" fill="#111"/>
<circle cx="258.5" cy="275.2" r="1.12" fill="#111"/>
<circle cx="259.9" cy="276.1" r="1.12" fill="#111"/>
<circle cx="257" cy="277.6" r="1.12" fill="#111"/>
<circle cx="258.5" cy="278.9" r="1.12" fill="#111"/>
<circle cx="259.9" cy="278.4" r="1.12" fill="#111"/>
<circle cx="256.2" cy="282.6" r="1.12" fill="#111"/>
<circle cx="258.1" cy="283.5" r="1.12" fill="#111"/>
<circle cx="259.4" cy="284.4" r="1.12" fill="#111"/>
<circle cx="257.5" cy="287.2" r="1.12" fill="#111"/>
<circle cx="258.8" cy="287.6" r="1.12" fill="#111"/>
<circle cx="258.1" cy="295" r="1.12" fill="#111"/>
<circle cx="258.5" cy="301" r="1.12" fill="#111"/>
<circle cx="259.9" cy="302.4" r="1.12" fill="#111"/>
<circle cx="257.5" cy="303.8" r="1.12" fill="#111"/>
<circle cx="258.1" cy="304.7" r="1.12" fill="#111"/>
<path d="M257.9 265 L257.9 277 M256.4 265 L259.4 265 M256.4 277 L259.4 277 M256.2 271 L259.6 271" fill="none" stroke="#161616" stroke-width="0.7" />
<circle cx="289.8" cy="263.2" r="1.5" fill="#de1f2d"/>
<circle cx="293.9" cy="271.5" r="1.5" fill="#de1f2d"/>
<circle cx="290.8" cy="273.9" r="1.5" fill="#de1f2d"/>
<circle cx="292.6" cy="275.2" r="1.5" fill="#de1f2d"/>
<circle cx="295" cy="274.3" r="1.5" fill="#de1f2d"/>
<circle cx="291.7" cy="277.6" r="1.5" fill="#de1f2d"/>
<circle cx="294.4" cy="278.9" r="1.5" fill="#de1f2d"/>
<circle cx="289.8" cy="283.5" r="1.5" fill="#de1f2d"/>
<circle cx="295.4" cy="285.4" r="1.5" fill="#de1f2d"/>
<circle cx="295.4" cy="293.7" r="1.5" fill="#de1f2d"/>
<circle cx="290.8" cy="295.5" r="1.5" fill="#de1f2d"/>
<circle cx="294.4" cy="296.4" r="1.5" fill="#de1f2d"/>
<circle cx="296.3" cy="295" r="1.5" fill="#de1f2d"/>
<circle cx="289.8" cy="298.3" r="1.5" fill="#de1f2d"/>
<circle cx="292.6" cy="298.7" r="1.5" fill="#de1f2d"/>
<circle cx="295.4" cy="297.9" r="1.5" fill="#de1f2d"/>
<circle cx="290.2" cy="303.5" r="1.5" fill="#de1f2d"/>
<circle cx="294.4" cy="302.9" r="1.5" fill="#de1f2d"/>
<circle cx="296.3" cy="304.8" r="1.5" fill="#de1f2d"/>
<circle cx="290.2" cy="309.7" r="1.5" fill="#de1f2d"/>
<circle cx="295" cy="311.2" r="1.5" fill="#de1f2d"/>
<circle cx="289.5" cy="315.8" r="1.5" fill="#de1f2d"/>
<circle cx="291.7" cy="314.9" r="1.5" fill="#de1f2d"/>
<circle cx="294.4" cy="313.4" r="1.5" fill="#de1f2d"/>
<circle cx="295.9" cy="320.1" r="1.5" fill="#de1f2d"/>
<circle cx="295" cy="330.6" r="1.5" fill="#de1f2d"/>
<path d="M293.2 286.3 L293.2 299.2 M291.4 286.3 L295 286.3 M291.4 299.2 L295 299.2 M291.0 292.8 L295.4 292.8" fill="none" stroke="#111" stroke-width="1.05" />
</g>
<g id="panelF">
<text x="374.80" y="191.90" font-size="7.62" >Genes proximal to SE region with</text>
<text x="391.20" y="201.50" font-size="7.58" >strong H3K27me3 gain</text>
<line x1="365.30" y1="207.00" x2="495.20" y2="207.00" stroke="#1a1a1a" stroke-width="0.9" />
<line x1="365.30" y1="217.66" x2="495.20" y2="217.66" stroke="#1a1a1a" stroke-width="0.9" />
<line x1="365.30" y1="228.32" x2="495.20" y2="228.32" stroke="#1a1a1a" stroke-width="0.9" />
<line x1="365.30" y1="238.99" x2="495.20" y2="238.99" stroke="#1a1a1a" stroke-width="0.9" />
<line x1="365.30" y1="249.65" x2="495.20" y2="249.65" stroke="#1a1a1a" stroke-width="0.9" />
<line x1="365.30" y1="260.31" x2="495.20" y2="260.31" stroke="#1a1a1a" stroke-width="0.9" />
<line x1="365.30" y1="270.98" x2="495.20" y2="270.98" stroke="#1a1a1a" stroke-width="0.9" />
<line x1="365.30" y1="281.64" x2="495.20" y2="281.64" stroke="#1a1a1a" stroke-width="0.9" />
<line x1="365.30" y1="292.30" x2="495.20" y2="292.30" stroke="#1a1a1a" stroke-width="0.9" />
<line x1="365.30" y1="302.96" x2="495.20" y2="302.96" stroke="#1a1a1a" stroke-width="0.9" />
<line x1="365.30" y1="313.62" x2="495.20" y2="313.62" stroke="#1a1a1a" stroke-width="0.9" />
<line x1="365.30" y1="324.29" x2="495.20" y2="324.29" stroke="#1a1a1a" stroke-width="0.9" />
<line x1="365.30" y1="334.95" x2="495.20" y2="334.95" stroke="#1a1a1a" stroke-width="0.9" />
<line x1="365.30" y1="345.61" x2="495.20" y2="345.61" stroke="#1a1a1a" stroke-width="0.9" />
<line x1="365.30" y1="356.28" x2="495.20" y2="356.28" stroke="#1a1a1a" stroke-width="0.9" />
<line x1="365.30" y1="366.94" x2="495.20" y2="366.94" stroke="#1a1a1a" stroke-width="0.9" />
<line x1="365.30" y1="377.60" x2="495.20" y2="377.60" stroke="#1a1a1a" stroke-width="0.9" />
<line x1="365.30" y1="206.55" x2="365.30" y2="378.05" stroke="#1a1a1a" stroke-width="0.9" />
<line x1="430.60" y1="206.55" x2="430.60" y2="378.05" stroke="#1a1a1a" stroke-width="0.9" />
<line x1="495.20" y1="206.55" x2="495.20" y2="378.05" stroke="#1a1a1a" stroke-width="0.9" />
<text x="400.30" y="214.68" font-size="6.4" text-anchor="middle" font-style="italic" >1810011O10Rik</text>
<text x="467.00" y="214.68" font-size="6.4" text-anchor="middle" font-style="italic" >Meis1</text>
<text x="400.30" y="225.34" font-size="6.4" text-anchor="middle" font-style="italic" >2700086A05Rik</text>
<text x="467.00" y="225.34" font-size="6.4" text-anchor="middle" font-style="italic" >Mthfsd</text>
<text x="400.30" y="236.01" font-size="6.4" text-anchor="middle" font-style="italic" >Aff3</text>
<text x="467.00" y="236.01" font-size="6.4" text-anchor="middle" font-style="italic" >Myrip</text>
<text x="400.30" y="246.67" font-size="6.4" text-anchor="middle" font-style="italic" >Calcrl</text>
<text x="467.00" y="246.67" font-size="6.4" text-anchor="middle" font-style="italic" >Pctp</text>
<text x="400.30" y="257.33" font-size="6.4" text-anchor="middle" font-style="italic" >Ccdc85a</text>
<text x="467.00" y="257.33" font-size="6.4" text-anchor="middle" font-style="italic" >Pdlg1</text>
<text x="400.30" y="267.99" font-size="6.4" text-anchor="middle" font-style="italic" >Foxc2</text>
<text x="467.00" y="267.99" font-size="6.4" text-anchor="middle" font-style="italic" >Pdzk1ip1</text>
<text x="400.30" y="278.66" font-size="6.4" text-anchor="middle" font-style="italic" >Foxf1a</text>
<text x="467.00" y="278.66" font-size="6.4" text-anchor="middle" font-style="italic" >Ptgis</text>
<text x="400.30" y="289.32" font-size="6.4" text-anchor="middle" font-style="italic" >Hck</text>
<text x="467.00" y="289.32" font-size="6.4" text-anchor="middle" font-style="italic" >S1pr1</text>
<text x="400.30" y="299.98" font-size="6.4" text-anchor="middle" font-style="italic" >Hoxa1</text>
<text x="467.00" y="299.98" font-size="6.4" text-anchor="middle" font-style="italic" >Scn7a</text>
<text x="400.30" y="310.64" font-size="6.4" text-anchor="middle" font-style="italic" >Hoxa2</text>
<text x="467.00" y="310.64" font-size="6.4" text-anchor="middle" font-style="italic" >Sgip1</text>
<text x="400.30" y="321.31" font-size="6.4" text-anchor="middle" font-style="italic" >Hoxa3</text>
<text x="467.00" y="321.31" font-size="6.4" text-anchor="middle" font-style="italic" >Sstr4</text>
<text x="400.30" y="331.97" font-size="6.4" text-anchor="middle" font-style="italic" >Hoxa4</text>
<text x="467.00" y="331.97" font-size="6.4" text-anchor="middle" font-style="italic" >Tal1</text>
<text x="400.30" y="342.63" font-size="6.4" text-anchor="middle" font-style="italic" >Hoxa6</text>
<text x="467.00" y="342.63" font-size="6.4" text-anchor="middle" font-style="italic" >Tbx3</text>
<text x="400.30" y="353.29" font-size="6.4" text-anchor="middle" font-style="italic" >Hoxa9</text>
<text x="467.00" y="353.29" font-size="6.4" text-anchor="middle" font-style="italic" >Thbd</text>
<text x="400.30" y="363.96" font-size="6.4" text-anchor="middle" font-style="italic" >Hpgd</text>
<text x="467.00" y="363.96" font-size="6.4" text-anchor="middle" font-style="italic" >Tmem100</text>
<text x="400.30" y="374.62" font-size="6.4" text-anchor="middle" font-style="italic" >Irf8</text>
<text x="467.00" y="374.62" font-size="6.4" text-anchor="middle" font-style="italic" >Tppp3</text>
</g>
<g id="panelG">
<line x1="71.40" y1="404.40" x2="97.90" y2="404.40" stroke="#111" stroke-width="1.7" />
<text x="84.70" y="401.40" font-size="7.6" text-anchor="middle" >5 kb</text>
<line x1="71.30" y1="412.00" x2="71.30" y2="428.80" stroke="#111" stroke-width="1.0" />
<line x1="71.30" y1="449.50" x2="71.30" y2="466.60" stroke="#111" stroke-width="1.0" />
<text x="67.20" y="413.20" font-size="7.3" text-anchor="end" >5.0</text>
<text x="67.20" y="429.80" font-size="7.3" text-anchor="end" >0</text>
<text x="67.20" y="451.90" font-size="7.3" text-anchor="end" >0.3</text>
<text x="67.20" y="468.10" font-size="7.3" text-anchor="end" >0</text>
<text x="52.20" y="422.70" font-size="7.6" text-anchor="end" >Lung tumor</text>
<text x="52.20" y="442.20" font-size="7.6" text-anchor="end" >Lung normal</text>
<text x="52.20" y="463.20" font-size="7.6" text-anchor="end" >Lung tumor</text>
<text x="52.20" y="480.90" font-size="7.6" text-anchor="end" >Lung normal</text>
<path d="M71.3 428.70 L71.3 428.09 L71.8 427.94 L72.3 427.94 L72.8 428.05 L73.3 428.00 L73.8 428.10 L74.3 428.10 L74.8 427.81 L75.3 427.80 L75.8 427.80 L76.3 427.97 L76.8 428.10 L77.3 427.98 L77.8 428.00 L78.3 428.00 L78.8 428.00 L79.3 428.01 L79.8 427.84 L80.3 427.80 L80.8 427.86 L81.3 427.94 L81.8 427.84 L82.3 427.80 L82.8 427.80 L83.3 427.97 L83.8 427.83 L84.3 427.80 L84.8 427.95 L85.3 427.85 L85.8 427.99 L86.3 427.83 L86.8 427.97 L87.3 427.87 L87.8 427.98 L88.3 428.00 L88.8 427.92 L89.3 427.87 L89.8 427.90 L90.3 427.98 L90.8 427.87 L91.3 427.80 L91.8 427.84 L92.3 427.80 L92.8 427.80 L93.3 427.88 L93.8 427.94 L94.3 428.09 L94.8 428.06 L95.3 428.03 L95.8 428.04 L96.3 428.05 L96.8 427.92 L97.3 428.04 L97.8 427.93 L98.3 428.04 L98.8 427.89 L99.3 427.80 L99.8 427.80 L100.3 427.81 L100.8 427.90 L101.3 427.99 L101.8 427.95 L102.3 428.07 L102.8 428.10 L103.3 428.10 L103.8 428.08 L104.3 427.94 L104.8 428.10 L105.3 428.08 L105.8 428.10 L106.3 428.10 L106.8 428.01 L107.3 427.95 L107.8 427.92 L108.3 427.83 L108.8 427.80 L109.3 427.97 L109.8 427.97 L110.3 428.03 L110.8 428.10 L111.3 428.06 L111.8 427.98 L112.3 427.88 L112.8 427.93 L113.3 427.80 L113.8 427.83 L114.3 427.80 L114.8 427.80 L115.3 427.80 L115.8 427.95 L116.3 427.80 L116.8 427.80 L117.3 427.80 L117.8 427.82 L118.3 427.96 L118.8 428.10 L119.3 428.10 L119.8 428.07 L120.3 428.03 L120.8 428.04 L121.3 427.98 L121.8 428.09 L122.3 428.04 L122.8 427.90 L123.3 427.84 L123.8 427.87 L124.3 427.80 L124.8 427.84 L125.3 427.90 L125.8 427.90 L126.3 427.80 L126.8 427.80 L127.3 427.91 L127.8 427.99 L128.3 428.02 L128.8 428.02 L129.3 427.91 L129.8 427.92 L130.3 428.09 L130.8 428.10 L131.3 428.10 L131.8 428.10 L132.3 427.86 L132.8 427.95 L133.3 428.10 L133.8 428.10 L134.3 428.07 L134.8 427.91 L135.3 428.02 L135.8 427.98 L136.3 427.91 L136.8 427.99 L137.3 427.92 L137.8 427.88 L138.3 427.91 L138.8 427.80 L139.3 427.80 L139.8 427.93 L140.3 427.88 L140.8 427.93 L141.3 427.80 L141.8 427.80 L142.3 427.80 L142.8 427.80 L143.3 427.80 L143.8 427.90 L144.3 427.80 L144.8 427.80 L145.3 427.86 L145.8 427.80 L146.3 427.94 L146.8 427.93 L147.3 427.64 L147.8 427.53 L148.3 427.47 L148.8 426.96 L149.3 426.81 L149.8 425.90 L150.3 424.90 L150.8 424.20 L151.3 424.54 L151.8 423.89 L152.3 422.63 L152.8 422.01 L153.3 421.24 L153.8 421.16 L154.3 419.00 L154.8 416.97 L155.3 416.40 L155.8 417.37 L156.3 416.91 L156.8 418.98 L157.3 418.62 L157.8 416.72 L158.3 416.51 L158.8 418.78 L159.3 419.09 L159.8 416.33 L160.3 416.25 L160.8 416.42 L161.3 413.92 L161.8 415.28 L162.3 414.77 L162.8 417.21 L163.3 419.18 L163.8 419.34 L164.3 419.40 L164.8 418.71 L165.3 417.37 L165.8 417.31 L166.3 419.06 L166.8 419.40 L167.3 419.40 L167.8 419.61 L168.3 419.24 L168.8 427.68 L169.3 418.51 L169.8 419.79 L170.3 417.88 L170.8 418.74 L171.3 416.09 L171.8 413.31 L172.3 415.45 L172.8 414.22 L173.3 416.69 L173.8 417.25 L174.3 419.45 L174.8 418.39 L175.3 417.45 L175.8 414.92 L176.3 414.88 L176.8 414.77 L177.3 416.44 L177.8 416.37 L178.3 416.20 L178.8 418.17 L179.3 419.30 L179.8 416.36 L180.3 413.62 L180.8 413.75 L181.3 414.85 L181.8 414.93 L182.3 415.39 L182.8 413.88 L183.3 414.32 L183.8 415.03 L184.3 417.05 L184.8 419.83 L185.3 418.32 L185.8 416.52 L186.3 417.15 L186.8 417.26 L187.3 415.82 L187.8 415.54 L188.3 415.69 L188.8 416.31 L189.3 415.99 L189.8 416.14 L190.3 416.70 L190.8 418.83 L191.3 419.42 L191.8 418.84 L192.3 420.15 L192.8 419.44 L193.3 418.77 L193.8 418.69 L194.3 416.92 L194.8 417.00 L195.3 418.78 L195.8 417.79 L196.3 420.96 L196.8 421.87 L197.3 422.51 L197.8 422.69 L198.3 421.48 L198.8 420.47 L199.3 421.00 L199.8 421.50 L200.3 423.17 L200.8 424.40 L201.3 424.79 L201.8 422.04 L202.3 421.77 L202.8 421.01 L203.3 421.33 L203.8 420.91 L204.3 420.05 L204.8 421.47 L205.3 422.87 L205.8 421.79 L206.3 420.24 L206.8 421.86 L207.3 420.19 L207.8 419.05 L208.3 419.09 L208.8 420.01 L209.3 418.93 L209.8 419.00 L210.3 418.84 L210.8 420.27 L211.3 420.40 L211.8 422.09 L212.3 422.55 L212.8 421.99 L213.3 422.70 L213.8 422.78 L214.3 422.74 L214.8 421.20 L215.3 422.23 L215.8 420.95 L216.3 421.28 L216.8 423.09 L217.3 424.04 L217.8 424.77 L218.3 426.07 L218.8 426.40 L219.3 427.47 L219.8 427.59 L220.3 427.60 L220.8 427.66 L221.3 427.84 L221.8 427.90 L222.3 427.96 L222.8 427.96 L223.3 427.85 L223.8 427.97 L224.3 427.83 L224.8 427.72 L225.3 427.75 L225.8 427.62 L226.3 427.56 L226.8 427.64 L227.3 427.56 L227.8 427.60 L228.3 427.78 L228.8 427.96 L229.3 427.94 L229.8 427.86 L230.3 427.75 L230.8 427.88 L231.3 428.02 L231.8 427.93 L232.3 428.02 L232.8 428.03 L233.3 428.03 L233.8 427.95 L234.3 427.78 L234.8 427.64 L235.3 427.65 L235.8 427.73 L236.3 427.66 L236.8 427.76 L237.3 427.82 L237.8 427.87 L238.3 427.99 L238.8 427.88 L239.3 427.76 L239.8 427.89 L240.3 427.65 L240.8 427.74 L241.3 427.60 L241.8 427.20 L242.3 427.30 L242.8 426.97 L243.3 427.23 L243.8 426.95 L244.3 426.86 L244.8 426.84 L245.3 427.04 L245.8 426.87 L246.3 426.88 L246.8 427.01 L247.3 426.98 L247.8 427.11 L248.3 427.25 L248.8 427.43 L249.3 427.51 L249.8 427.65 L250.3 427.70 L250.8 427.70 L251.3 427.70 L251.8 427.73 L252.3 427.87 L252.8 427.70 L253.3 427.83 L253.8 427.86 L254.3 427.96 L254.8 428.08 L255.3 427.97 L255.8 428.08 L256.3 428.05 L256.8 428.08 L257.3 428.08 L257.8 428.08 L258.3 428.04 L258.8 428.08 L259.3 428.08 L259.8 428.08 L260.3 427.96 L260.8 428.05 L261.3 427.89 L261.8 427.87 L262.3 427.88 L262.8 428.05 L263.3 427.94 L263.8 427.93 L264.3 428.01 L264.8 427.95 L265.3 428.08 L265.8 428.08 L266.3 428.00 L266.8 428.08 L267.3 428.08 L267.8 427.94 L268.3 427.89 L268.8 427.98 L269.3 428.08 L269.8 428.08 L270.3 427.95 L270.8 428.08 L271.3 428.00 L271.8 428.00 L272.3 427.69 L272.8 427.27 L273.3 427.01 L273.8 426.74 L274.3 426.47 L274.8 426.21 L275.3 426.45 L275.8 426.65 L276.3 427.08 L276.8 427.12 L277.3 427.12 L277.8 427.13 L278.3 427.14 L278.8 426.83 L279.3 427.15 L279.8 426.96 L280.3 426.91 L280.8 427.18 L281.3 426.90 L281.8 426.80 L282.3 426.93 L282.8 427.13 L283.3 427.28 L283.8 427.39 L284.3 427.32 L284.8 427.14 L285.3 427.16 L285.8 427.28 L286.3 427.63 L286.8 427.70 L287.3 427.89 L287.8 427.77 L288.3 427.92 L288.8 428.06 L289.3 428.08 L289.8 427.92 L290.3 427.92 L290.8 427.82 L291.3 427.87 L291.8 427.94 L292.3 427.86 L292.8 427.76 L293.3 427.97 L293.8 428.03 L294.3 428.09 L294.8 428.09 L295.3 427.97 L295.8 428.10 L296.3 427.95 L296.8 428.00 L297.3 428.10 L297.8 427.92 L298.3 427.84 L298.8 427.95 L299.3 427.91 L299.8 428.06 L300.3 428.03 L300.8 428.10 L301.3 428.10 L301.8 428.10 L302.3 428.10 L302.8 428.09 L303.3 428.07 L303.8 427.92 L304.3 427.81 L304.8 427.95 L305.3 428.02 L305.8 428.10 L306.3 427.99 L306.8 427.98 L307.3 428.10 L307.8 427.94 L308.3 427.88 L308.8 427.82 L309.3 427.87 L309.8 428.05 L310.3 428.06 L310.8 428.10 L311.3 428.10 L311.8 428.10 L312.3 428.10 L312.8 428.10 L313.3 428.10 L313.8 428.09 L314.3 428.10 L314.8 428.06 L315.3 427.97 L315.8 427.80 L316.3 427.78 L316.8 427.81 L317.3 427.79 L317.8 427.79 L318.3 427.79 L318.8 427.95 L319.3 427.81 L319.8 427.79 L320.3 427.86 L320.8 428.01 L321.3 428.03 L321.3 428.70 Z" fill="#2d3e97" />
<path d="M71.3 447.90 L71.3 446.95 L71.8 446.91 L72.3 446.95 L72.8 446.95 L73.3 446.95 L73.8 446.95 L74.3 446.95 L74.8 446.95 L75.3 446.95 L75.8 446.95 L76.3 446.95 L76.8 446.95 L77.3 446.95 L77.8 446.95 L78.3 446.95 L78.8 446.95 L79.3 446.95 L79.8 446.95 L80.3 446.95 L80.8 446.95 L81.3 446.95 L81.8 446.95 L82.3 446.95 L82.8 446.95 L83.3 446.89 L83.8 446.95 L84.3 446.87 L84.8 446.95 L85.3 446.95 L85.8 446.72 L86.3 446.76 L86.8 446.91 L87.3 446.95 L87.8 446.95 L88.3 446.95 L88.8 446.95 L89.3 446.95 L89.8 446.95 L90.3 446.95 L90.8 446.95 L91.3 446.95 L91.8 446.95 L92.3 446.95 L92.8 446.95 L93.3 446.95 L93.8 446.95 L94.3 446.95 L94.8 446.95 L95.3 446.87 L95.8 446.95 L96.3 446.95 L96.8 446.90 L97.3 446.88 L97.8 446.81 L98.3 446.60 L98.8 446.79 L99.3 446.60 L99.8 446.60 L100.3 446.60 L100.8 446.76 L101.3 446.90 L101.8 446.79 L102.3 446.60 L102.8 446.75 L103.3 446.60 L103.8 446.60 L104.3 446.60 L104.8 446.65 L105.3 446.60 L105.8 446.60 L106.3 446.68 L106.8 446.79 L107.3 446.60 L107.8 446.60 L108.3 446.60 L108.8 446.67 L109.3 446.75 L109.8 446.60 L110.3 446.60 L110.8 446.81 L111.3 446.70 L111.8 446.85 L112.3 446.95 L112.8 446.95 L113.3 446.95 L113.8 446.95 L114.3 446.85 L114.8 446.95 L115.3 446.95 L115.8 446.95 L116.3 446.95 L116.8 446.95 L117.3 446.95 L117.8 446.95 L118.3 446.94 L118.8 446.83 L119.3 446.85 L119.8 446.65 L120.3 446.67 L120.8 446.60 L121.3 446.60 L121.8 446.66 L122.3 446.60 L122.8 446.60 L123.3 446.69 L123.8 446.79 L124.3 446.87 L124.8 446.95 L125.3 446.95 L125.8 446.95 L126.3 446.95 L126.8 446.95 L127.3 446.95 L127.8 446.95 L128.3 446.95 L128.8 446.94 L129.3 446.95 L129.8 446.95 L130.3 446.95 L130.8 446.95 L131.3 446.95 L131.8 446.95 L132.3 446.71 L132.8 446.60 L133.3 446.68 L133.8 446.79 L134.3 446.60 L134.8 446.77 L135.3 446.95 L135.8 446.95 L136.3 446.95 L136.8 446.95 L137.3 446.95 L137.8 446.95 L138.3 446.95 L138.8 446.95 L139.3 446.95 L139.8 446.95 L140.3 446.95 L140.8 446.89 L141.3 446.94 L141.8 446.81 L142.3 446.60 L142.8 446.60 L143.3 446.60 L143.8 446.64 L144.3 446.60 L144.8 446.60 L145.3 446.85 L145.8 446.95 L146.3 446.95 L146.8 446.95 L147.3 446.88 L147.8 446.74 L148.3 446.93 L148.8 446.50 L149.3 446.57 L149.8 446.49 L150.3 446.54 L150.8 446.72 L151.3 446.13 L151.8 445.68 L152.3 445.76 L152.8 445.17 L153.3 446.08 L153.8 446.07 L154.3 445.58 L154.8 445.76 L155.3 445.21 L155.8 445.17 L156.3 444.94 L156.8 445.09 L157.3 445.21 L157.8 445.74 L158.3 444.99 L158.8 445.34 L159.3 445.95 L159.8 445.69 L160.3 445.60 L160.8 445.47 L161.3 445.79 L161.8 444.96 L162.3 444.95 L162.8 445.50 L163.3 445.99 L163.8 446.00 L164.3 445.27 L164.8 445.55 L165.3 445.72 L165.8 444.72 L166.3 445.39 L166.8 444.87 L167.3 444.58 L167.8 444.69 L168.3 444.12 L168.8 444.62 L169.3 444.39 L169.8 444.43 L170.3 444.50 L170.8 444.68 L171.3 444.91 L171.8 444.49 L172.3 444.45 L172.8 444.45 L173.3 444.25 L173.8 444.50 L174.3 445.29 L174.8 444.81 L175.3 444.11 L175.8 444.70 L176.3 444.85 L176.8 445.26 L177.3 445.82 L177.8 446.04 L178.3 446.05 L178.8 446.06 L179.3 445.90 L179.8 446.07 L180.3 445.50 L180.8 444.82 L181.3 445.05 L181.8 444.41 L182.3 444.34 L182.8 444.73 L183.3 444.35 L183.8 444.36 L184.3 444.38 L184.8 444.39 L185.3 445.14 L185.8 445.37 L186.3 446.03 L186.8 446.00 L187.3 445.49 L187.8 445.43 L188.3 444.92 L188.8 444.86 L189.3 444.83 L189.8 444.54 L190.3 444.70 L190.8 444.57 L191.3 444.59 L191.8 444.60 L192.3 444.82 L192.8 445.43 L193.3 446.10 L193.8 446.28 L194.3 446.29 L194.8 446.25 L195.3 445.80 L195.8 445.13 L196.3 445.27 L196.8 445.58 L197.3 445.30 L197.8 444.86 L198.3 445.16 L198.8 445.26 L199.3 445.93 L199.8 446.13 L200.3 446.14 L200.8 446.33 L201.3 446.28 L201.8 445.62 L202.3 445.90 L202.8 446.15 L203.3 446.35 L203.8 445.76 L204.3 445.49 L204.8 446.00 L205.3 446.36 L205.8 446.36 L206.3 446.12 L206.8 445.75 L207.3 445.20 L207.8 445.81 L208.3 445.30 L208.8 445.34 L209.3 446.24 L209.8 446.27 L210.3 445.70 L210.8 445.48 L211.3 445.11 L211.8 444.90 L212.3 444.99 L212.8 445.54 L213.3 445.73 L213.8 446.18 L214.3 446.61 L214.8 446.82 L215.3 446.73 L215.8 446.87 L216.3 446.95 L216.8 446.84 L217.3 446.78 L217.8 446.75 L218.3 446.87 L218.8 446.95 L219.3 446.94 L219.8 446.68 L220.3 446.95 L220.8 446.88 L221.3 446.85 L221.8 446.53 L222.3 446.42 L222.8 446.56 L223.3 446.73 L223.8 446.95 L224.3 446.95 L224.8 446.92 L225.3 446.55 L225.8 446.79 L226.3 446.84 L226.8 446.50 L227.3 446.82 L227.8 446.95 L228.3 446.95 L228.8 446.89 L229.3 446.87 L229.8 446.95 L230.3 446.89 L230.8 446.95 L231.3 446.88 L231.8 446.95 L232.3 446.90 L232.8 446.76 L233.3 446.66 L233.8 446.60 L234.3 446.45 L234.8 446.45 L235.3 446.45 L235.8 446.45 L236.3 446.60 L236.8 446.46 L237.3 446.46 L237.8 446.77 L238.3 446.95 L238.8 446.81 L239.3 446.59 L239.8 446.65 L240.3 446.56 L240.8 446.82 L241.3 446.95 L241.8 446.92 L242.3 446.71 L242.8 446.84 L243.3 446.95 L243.8 446.95 L244.3 446.95 L244.8 446.95 L245.3 446.95 L245.8 446.95 L246.3 446.95 L246.8 446.95 L247.3 446.95 L247.8 446.95 L248.3 446.95 L248.8 446.93 L249.3 446.63 L249.8 446.49 L250.3 446.74 L250.8 446.62 L251.3 446.85 L251.8 446.82 L252.3 446.95 L252.8 446.93 L253.3 446.95 L253.8 446.95 L254.3 446.95 L254.8 446.95 L255.3 446.95 L255.8 446.95 L256.3 446.95 L256.8 446.95 L257.3 446.95 L257.8 446.77 L258.3 446.82 L258.8 446.95 L259.3 446.95 L259.8 446.95 L260.3 446.95 L260.8 446.93 L261.3 446.88 L261.8 446.90 L262.3 446.85 L262.8 446.91 L263.3 446.86 L263.8 446.69 L264.3 446.56 L264.8 446.58 L265.3 446.95 L265.8 446.95 L266.3 446.95 L266.8 446.95 L267.3 446.95 L267.8 446.95 L268.3 446.95 L268.8 446.95 L269.3 446.95 L269.8 446.95 L270.3 446.95 L270.8 446.95 L271.3 446.95 L271.8 446.93 L272.3 446.95 L272.8 446.95 L273.3 446.80 L273.8 446.68 L274.3 446.66 L274.8 446.87 L275.3 446.63 L275.8 446.85 L276.3 446.94 L276.8 446.76 L277.3 446.61 L277.8 446.84 L278.3 446.76 L278.8 446.73 L279.3 446.90 L279.8 446.65 L280.3 446.66 L280.8 446.58 L281.3 446.58 L281.8 446.59 L282.3 446.59 L282.8 446.59 L283.3 446.81 L283.8 446.62 L284.3 446.95 L284.8 446.95 L285.3 446.95 L285.8 446.95 L286.3 446.95 L286.8 446.91 L287.3 446.64 L287.8 446.64 L288.3 446.75 L288.8 446.95 L289.3 446.81 L289.8 446.75 L290.3 446.65 L290.8 446.61 L291.3 446.61 L291.8 446.61 L292.3 446.80 L292.8 446.87 L293.3 446.70 L293.8 446.93 L294.3 446.95 L294.8 446.95 L295.3 446.93 L295.8 446.78 L296.3 446.95 L296.8 446.95 L297.3 446.95 L297.8 446.95 L298.3 446.95 L298.8 446.95 L299.3 446.95 L299.8 446.95 L300.3 446.89 L300.8 446.85 L301.3 446.95 L301.8 446.88 L302.3 446.95 L302.8 446.76 L303.3 446.94 L303.8 446.75 L304.3 446.65 L304.8 446.77 L305.3 446.90 L305.8 446.95 L306.3 446.92 L306.8 446.79 L307.3 446.92 L307.8 446.79 L308.3 446.72 L308.8 446.74 L309.3 446.81 L309.8 446.76 L310.3 446.67 L310.8 446.67 L311.3 446.71 L311.8 446.76 L312.3 446.85 L312.8 446.95 L313.3 446.90 L313.8 446.89 L314.3 446.95 L314.8 446.95 L315.3 446.95 L315.8 446.95 L316.3 446.95 L316.8 446.83 L317.3 446.93 L317.8 446.89 L318.3 446.69 L318.8 446.81 L319.3 446.95 L319.8 446.95 L320.3 446.95 L320.8 446.95 L321.3 446.95 L321.3 447.90 Z" fill="#2d3e97" />
<path d="M71.3 466.30 L71.3 461.20 L71.7 459.13 L72.1 462.57 L72.5 462.91 L72.9 458.65 L73.3 461.85 L73.7 462.60 L74.1 460.57 L74.5 462.79 L74.9 459.15 L75.3 455.27 L75.7 454.36 L76.1 457.27 L76.5 457.72 L76.9 457.31 L77.3 459.08 L77.7 457.30 L78.1 456.40 L78.5 456.80 L78.9 459.26 L79.3 462.46 L79.7 462.45 L80.1 462.90 L80.5 461.09 L80.9 463.18 L81.3 463.82 L81.7 463.80 L82.1 459.99 L82.5 458.09 L82.9 458.88 L83.3 457.64 L83.7 460.50 L84.1 457.48 L84.5 457.40 L84.9 457.32 L85.3 457.42 L85.7 457.16 L86.1 459.71 L86.5 458.91 L86.9 460.15 L87.3 461.59 L87.7 463.44 L88.1 463.41 L88.5 463.39 L88.9 462.82 L89.3 463.34 L89.7 463.30 L90.1 461.18 L90.5 463.27 L90.9 463.25 L91.3 463.22 L91.7 463.20 L92.1 463.17 L92.5 462.98 L92.9 461.18 L93.3 463.10 L93.7 458.71 L94.1 461.25 L94.5 457.44 L94.9 456.42 L95.3 459.15 L95.7 462.36 L96.1 462.93 L96.5 462.91 L96.9 456.72 L97.3 460.17 L97.7 459.50 L98.1 461.87 L98.5 462.79 L98.9 462.77 L99.3 462.74 L99.7 461.65 L100.1 462.71 L100.5 458.31 L100.9 462.77 L101.3 462.80 L101.7 462.83 L102.1 462.82 L102.5 462.89 L102.9 462.92 L103.3 462.95 L103.7 459.67 L104.1 457.36 L104.5 455.43 L104.9 455.53 L105.3 455.63 L105.7 455.73 L106.1 459.24 L106.5 456.10 L106.9 458.24 L107.3 462.88 L107.7 463.28 L108.1 463.29 L108.5 459.61 L108.9 456.44 L109.3 456.04 L109.7 455.96 L110.1 460.92 L110.5 455.80 L110.9 458.15 L111.3 462.88 L111.7 463.08 L112.1 458.37 L112.5 455.40 L112.9 456.23 L113.3 455.24 L113.7 457.79 L114.1 455.08 L114.5 458.42 L114.9 458.64 L115.3 456.27 L115.7 458.08 L116.1 460.24 L116.5 460.24 L116.9 456.29 L117.3 454.44 L117.7 455.21 L118.1 460.82 L118.5 462.69 L118.9 458.44 L119.3 454.17 L119.7 454.29 L120.1 457.35 L120.5 462.62 L120.9 459.45 L121.3 456.55 L121.7 457.41 L122.1 454.64 L122.5 453.85 L122.9 453.81 L123.3 453.77 L123.7 453.73 L124.1 458.26 L124.5 456.82 L124.9 455.41 L125.3 453.57 L125.7 455.03 L126.1 455.01 L126.5 456.07 L126.9 456.74 L127.3 458.79 L127.7 453.46 L128.1 458.06 L128.5 459.20 L128.9 455.61 L129.3 456.33 L129.7 455.58 L130.1 460.89 L130.5 462.53 L130.9 462.55 L131.3 462.57 L131.7 462.59 L132.1 461.63 L132.5 459.31 L132.9 462.51 L133.3 460.70 L133.7 459.95 L134.1 458.10 L134.5 455.78 L134.9 462.30 L135.3 460.91 L135.7 460.70 L136.1 462.81 L136.5 462.83 L136.9 462.85 L137.3 461.97 L137.7 457.41 L138.1 457.74 L138.5 461.57 L138.9 456.45 L139.3 455.18 L139.7 459.57 L140.1 463.00 L140.5 462.16 L140.9 459.84 L141.3 461.67 L141.7 462.95 L142.1 456.68 L142.5 455.05 L142.9 462.90 L143.3 462.66 L143.7 462.89 L144.1 462.88 L144.5 460.01 L144.9 462.85 L145.3 462.12 L145.7 457.02 L146.1 455.85 L146.5 455.91 L146.9 454.61 L147.3 456.30 L147.7 458.13 L148.1 460.58 L148.5 461.72 L148.9 460.60 L149.3 457.24 L149.7 456.78 L150.1 454.32 L150.5 454.40 L150.9 454.48 L151.3 457.57 L151.7 457.64 L152.1 462.83 L152.5 460.12 L152.9 456.71 L153.3 457.55 L153.7 462.55 L154.1 459.22 L154.5 458.57 L154.9 462.99 L155.3 463.02 L155.7 461.84 L156.1 455.83 L156.5 460.29 L156.9 459.42 L157.3 455.76 L157.7 457.32 L158.1 455.96 L158.5 459.98 L158.9 456.08 L159.3 457.37 L159.7 460.41 L160.1 460.47 L160.5 463.34 L160.9 459.50 L161.3 461.53 L161.7 457.21 L162.1 457.36 L162.5 459.79 L162.9 463.38 L163.3 463.55 L163.7 463.58 L164.1 459.68 L164.5 457.83 L164.9 457.53 L165.3 460.69 L165.7 462.89 L166.1 463.76 L166.5 461.41 L166.9 459.64 L167.3 460.31 L167.7 462.42 L168.1 462.75 L168.5 463.60 L168.9 463.36 L169.3 459.81 L169.7 456.84 L170.1 459.69 L170.5 459.21 L170.9 456.06 L171.3 455.06 L171.7 458.15 L172.1 455.80 L172.5 460.15 L172.9 454.95 L173.3 459.68 L173.7 458.20 L174.1 457.63 L174.5 453.85 L174.9 453.81 L175.3 453.77 L175.7 455.72 L176.1 457.63 L176.5 454.29 L176.9 453.61 L177.3 457.37 L177.7 462.47 L178.1 460.08 L178.5 456.10 L178.9 459.92 L179.3 458.91 L179.7 462.41 L180.1 456.31 L180.5 454.03 L180.9 459.55 L181.3 456.98 L181.7 454.12 L182.1 459.63 L182.5 455.99 L182.9 453.88 L183.3 454.30 L183.7 456.18 L184.1 454.12 L184.5 457.21 L184.9 457.09 L185.3 461.92 L185.7 462.74 L186.1 462.77 L186.5 458.96 L186.9 456.81 L187.3 460.41 L187.7 457.00 L188.1 455.92 L188.5 456.63 L188.9 459.61 L189.3 458.00 L189.7 462.20 L190.1 463.00 L190.5 462.32 L190.9 460.65 L191.3 463.04 L191.7 463.05 L192.1 458.10 L192.5 458.97 L192.9 460.41 L193.3 463.10 L193.7 461.11 L194.1 456.89 L194.5 458.46 L194.9 457.27 L195.3 458.80 L195.7 459.71 L196.1 461.63 L196.5 457.51 L196.9 455.99 L197.3 460.06 L197.7 463.23 L198.1 463.24 L198.5 463.05 L198.9 462.40 L199.3 462.93 L199.7 463.29 L200.1 463.30 L200.5 458.73 L200.9 460.84 L201.3 457.30 L201.7 460.43 L202.1 461.76 L202.5 460.31 L202.9 462.66 L203.3 462.78 L203.7 462.08 L204.1 463.40 L204.5 463.41 L204.9 463.42 L205.3 463.43 L205.7 463.44 L206.1 463.45 L206.5 461.03 L206.9 456.88 L207.3 456.91 L207.7 460.83 L208.1 459.82 L208.5 457.23 L208.9 459.15 L209.3 458.53 L209.7 457.11 L210.1 457.14 L210.5 457.18 L210.9 457.73 L211.3 457.24 L211.7 457.28 L212.1 457.31 L212.5 458.97 L212.9 462.07 L213.3 462.34 L213.7 463.02 L214.1 459.94 L214.5 461.77 L214.9 457.93 L215.3 460.79 L215.7 460.76 L216.1 457.71 L216.5 459.17 L216.9 461.22 L217.3 460.81 L217.7 463.00 L218.1 463.78 L218.5 463.80 L218.9 463.18 L219.3 459.92 L219.7 459.90 L220.1 461.57 L220.5 460.94 L220.9 461.66 L221.3 458.66 L221.7 458.81 L222.1 458.38 L222.5 460.43 L222.9 461.81 L223.3 464.19 L223.7 464.28 L224.1 465.16 L224.5 466.18 L224.9 466.07 L225.3 466.18 L225.7 466.18 L226.1 466.18 L226.5 466.18 L226.9 466.18 L227.3 466.02 L227.7 463.84 L228.1 461.98 L228.5 464.05 L228.9 466.18 L229.3 466.18 L229.7 466.18 L230.1 466.18 L230.5 466.18 L230.9 466.18 L231.3 464.38 L231.7 466.09 L232.1 466.18 L232.5 464.27 L232.9 466.18 L233.3 465.96 L233.7 463.07 L234.1 464.26 L234.5 463.58 L234.9 463.55 L235.3 465.33 L235.7 460.93 L236.1 458.80 L236.5 463.34 L236.9 458.80 L237.3 458.80 L237.7 460.05 L238.1 462.87 L238.5 460.70 L238.9 458.80 L239.3 464.03 L239.7 464.28 L240.1 465.78 L240.5 464.96 L240.9 464.93 L241.3 463.93 L241.7 463.85 L242.1 462.30 L242.5 462.82 L242.9 465.54 L243.3 463.75 L243.7 461.19 L244.1 464.33 L244.5 464.57 L244.9 461.06 L245.3 462.49 L245.7 459.37 L246.1 459.41 L246.5 459.79 L246.9 464.06 L247.3 464.07 L247.7 460.10 L248.1 460.67 L248.5 461.55 L248.9 465.35 L249.3 466.18 L249.7 464.04 L250.1 465.27 L250.5 466.18 L250.9 460.86 L251.3 460.16 L251.7 464.06 L252.1 464.59 L252.5 464.16 L252.9 465.31 L253.3 466.18 L253.7 465.19 L254.1 461.32 L254.5 465.18 L254.9 465.02 L255.3 466.18 L255.7 461.57 L256.1 464.63 L256.5 460.59 L256.9 460.09 L257.3 461.40 L257.7 464.01 L258.1 464.60 L258.5 465.65 L258.9 462.27 L259.3 462.31 L259.7 461.49 L260.1 465.84 L260.5 466.17 L260.9 463.69 L261.3 460.32 L261.7 460.29 L262.1 460.29 L262.5 460.26 L262.9 460.23 L263.3 464.41 L263.7 463.83 L264.1 465.83 L264.5 465.89 L264.9 464.98 L265.3 465.93 L265.7 463.78 L266.1 464.81 L266.5 460.58 L266.9 459.92 L267.3 459.89 L267.7 465.95 L268.1 463.85 L268.5 463.47 L268.9 464.64 L269.3 465.78 L269.7 466.18 L270.1 465.91 L270.5 466.18 L270.9 466.18 L271.3 466.18 L271.7 466.18 L272.1 465.80 L272.5 463.85 L272.9 459.60 L273.3 459.43 L273.7 464.41 L274.1 466.02 L274.5 466.18 L274.9 466.18 L275.3 464.71 L275.7 460.02 L276.1 463.10 L276.5 459.41 L276.9 463.44 L277.3 464.95 L277.7 461.48 L278.1 465.71 L278.5 465.20 L278.9 464.18 L279.3 460.97 L279.7 462.37 L280.1 460.99 L280.5 459.12 L280.9 463.73 L281.3 465.06 L281.7 465.02 L282.1 463.69 L282.5 462.23 L282.9 459.04 L283.3 459.02 L283.7 461.40 L284.1 465.46 L284.5 462.18 L284.9 465.18 L285.3 466.18 L285.7 466.18 L286.1 466.04 L286.5 465.95 L286.9 466.18 L287.3 465.78 L287.7 466.18 L288.1 465.19 L288.5 465.49 L288.9 465.91 L289.3 461.77 L289.7 458.81 L290.1 462.42 L290.5 465.82 L290.9 466.18 L291.3 466.18 L291.7 466.18 L292.1 465.86 L292.5 466.18 L292.9 464.32 L293.3 466.06 L293.7 466.18 L294.1 465.19 L294.5 464.92 L294.9 464.34 L295.3 465.22 L295.7 464.03 L296.1 465.14 L296.5 464.24 L296.9 464.22 L297.3 465.47 L297.7 463.11 L298.1 461.92 L298.5 465.32 L298.9 466.18 L299.3 466.18 L299.7 466.18 L300.1 462.07 L300.5 463.14 L300.9 459.00 L301.3 462.80 L301.7 460.53 L302.1 460.51 L302.5 460.24 L302.9 457.80 L303.3 457.80 L303.7 457.80 L304.1 466.18 L304.5 466.18 L304.9 466.05 L305.3 466.00 L305.7 464.80 L306.1 466.15 L306.5 466.18 L306.9 465.58 L307.3 463.71 L307.7 461.89 L308.1 461.22 L308.5 464.96 L308.9 465.38 L309.3 466.18 L309.7 466.18 L310.1 466.18 L310.5 465.65 L310.9 466.18 L311.3 464.68 L311.7 464.19 L312.1 464.32 L312.5 463.43 L312.9 465.77 L313.3 466.18 L313.7 466.18 L314.1 458.02 L314.5 458.26 L314.9 466.05 L315.3 463.13 L315.7 461.72 L316.1 464.36 L316.5 465.72 L316.9 460.11 L317.3 466.18 L317.7 464.18 L318.1 463.80 L318.5 465.89 L318.9 463.98 L319.3 461.55 L319.7 464.90 L320.1 465.60 L320.5 465.99 L320.9 464.69 L321.3 463.47 L321.3 466.30 Z" fill="#e3222b" />
<path d="M71.3 485.20 L71.3 483.37 L71.7 482.56 L72.1 483.28 L72.5 481.98 L72.9 482.91 L73.3 483.03 L73.7 482.95 L74.1 480.44 L74.5 481.77 L74.9 480.03 L75.3 478.77 L75.7 480.80 L76.1 482.47 L76.5 479.02 L76.9 476.97 L77.3 476.87 L77.7 479.06 L78.1 477.98 L78.5 480.98 L78.9 480.82 L79.3 481.14 L79.7 478.75 L80.1 481.84 L80.5 482.10 L80.9 482.06 L81.3 482.03 L81.7 482.00 L82.1 480.41 L82.5 480.74 L82.9 481.23 L83.3 481.86 L83.7 481.83 L84.1 480.87 L84.5 479.14 L84.9 481.88 L85.3 478.13 L85.7 479.49 L86.1 475.89 L86.5 477.62 L86.9 476.65 L87.3 478.71 L87.7 482.11 L88.1 478.33 L88.5 480.11 L88.9 481.26 L89.3 481.11 L89.7 482.28 L90.1 482.32 L90.5 481.59 L90.9 482.39 L91.3 482.42 L91.7 481.77 L92.1 480.00 L92.5 477.65 L92.9 478.50 L93.3 478.23 L93.7 479.54 L94.1 478.81 L94.5 477.51 L94.9 478.64 L95.3 481.33 L95.7 481.35 L96.1 481.72 L96.5 482.53 L96.9 482.69 L97.3 481.63 L97.7 482.72 L98.1 482.74 L98.5 482.76 L98.9 481.79 L99.3 479.11 L99.7 480.92 L100.1 482.37 L100.5 479.56 L100.9 482.27 L101.3 479.33 L101.7 481.93 L102.1 482.37 L102.5 479.68 L102.9 478.15 L103.3 480.29 L103.7 479.80 L104.1 477.54 L104.5 477.18 L104.9 476.24 L105.3 476.08 L105.7 480.00 L106.1 481.99 L106.5 478.32 L106.9 475.44 L107.3 475.76 L107.7 480.86 L108.1 476.68 L108.5 474.80 L108.9 474.64 L109.3 475.02 L109.7 478.99 L110.1 478.19 L110.5 478.99 L110.9 474.62 L111.3 475.50 L111.7 475.81 L112.1 480.10 L112.5 481.67 L112.9 478.46 L113.3 481.74 L113.7 477.28 L114.1 475.73 L114.5 475.33 L114.9 477.79 L115.3 476.80 L115.7 479.55 L116.1 478.02 L116.5 477.25 L116.9 475.93 L117.3 476.04 L117.7 477.65 L118.1 477.02 L118.5 478.70 L118.9 478.81 L119.3 477.19 L119.7 475.92 L120.1 475.41 L120.5 478.49 L120.9 477.85 L121.3 474.96 L121.7 475.70 L122.1 474.66 L122.5 475.91 L122.9 475.25 L123.3 474.21 L123.7 479.17 L124.1 475.13 L124.5 478.03 L124.9 481.26 L125.3 481.21 L125.7 475.08 L126.1 475.65 L126.5 474.72 L126.9 473.43 L127.3 473.53 L127.7 473.63 L128.1 474.97 L128.5 478.75 L128.9 477.55 L129.3 481.40 L129.7 481.43 L130.1 481.47 L130.5 481.50 L130.9 481.54 L131.3 481.57 L131.7 477.21 L132.1 474.73 L132.5 476.90 L132.9 474.93 L133.3 478.71 L133.7 479.27 L134.1 478.40 L134.5 475.76 L134.9 474.86 L135.3 477.68 L135.7 478.29 L136.1 475.12 L136.5 474.26 L136.9 474.53 L137.3 473.97 L137.7 475.82 L138.1 477.76 L138.5 479.35 L138.9 477.89 L139.3 480.82 L139.7 475.15 L140.1 473.30 L140.5 472.76 L140.9 475.71 L141.3 478.63 L141.7 473.61 L142.1 474.36 L142.5 471.87 L142.9 472.63 L143.3 472.93 L143.7 471.07 L144.1 470.80 L144.5 470.53 L144.9 473.82 L145.3 479.92 L145.7 479.94 L146.1 479.85 L146.5 479.23 L146.9 479.67 L147.3 479.58 L147.7 479.49 L148.1 472.87 L148.5 474.55 L148.9 478.48 L149.3 479.34 L149.7 478.22 L150.1 474.52 L150.5 467.73 L150.9 467.66 L151.3 468.29 L151.7 467.51 L152.1 467.43 L152.5 470.53 L152.9 473.79 L153.3 470.16 L153.7 467.13 L154.1 471.32 L154.5 478.41 L154.9 471.54 L155.3 469.95 L155.7 475.32 L156.1 474.95 L156.5 474.86 L156.9 477.93 L157.3 476.31 L157.7 477.81 L158.1 479.04 L158.5 474.24 L158.9 472.68 L159.3 479.12 L159.7 474.10 L160.1 471.68 L160.5 477.91 L160.9 479.22 L161.3 474.14 L161.7 476.92 L162.1 469.89 L162.5 467.92 L162.9 467.99 L163.3 468.07 L163.7 468.14 L164.1 471.73 L164.5 478.79 L164.9 479.93 L165.3 476.33 L165.7 479.02 L166.1 474.12 L166.5 477.82 L166.9 473.03 L167.3 481.46 L167.7 477.78 L168.1 478.15 L168.5 479.95 L168.9 483.12 L169.3 483.82 L169.7 483.16 L170.1 480.52 L170.5 476.95 L170.9 475.55 L171.3 474.96 L171.7 474.64 L172.1 474.32 L172.5 474.00 L172.9 474.53 L173.3 475.50 L173.7 475.89 L174.1 478.65 L174.5 476.73 L174.9 477.02 L175.3 479.41 L175.7 480.52 L176.1 480.43 L176.5 476.38 L176.9 479.36 L177.3 480.27 L177.7 473.97 L178.1 470.41 L178.5 472.65 L178.9 477.09 L179.3 475.44 L179.7 479.85 L180.1 479.92 L180.5 479.87 L180.9 479.38 L181.3 479.76 L181.7 479.71 L182.1 475.21 L182.5 479.61 L182.9 479.56 L183.3 475.02 L183.7 468.50 L184.1 468.23 L184.5 468.37 L184.9 468.50 L185.3 468.63 L185.7 468.77 L186.1 468.90 L186.5 470.33 L186.9 469.17 L187.3 472.45 L187.7 478.93 L188.1 477.63 L188.5 472.57 L188.9 471.62 L189.3 470.73 L189.7 477.70 L190.1 475.17 L190.5 472.90 L190.9 473.45 L191.3 471.07 L191.7 471.33 L192.1 478.55 L192.5 475.91 L192.9 476.32 L193.3 480.65 L193.7 480.85 L194.1 477.92 L194.5 480.26 L194.9 481.21 L195.3 479.86 L195.7 481.00 L196.1 477.43 L196.5 481.44 L196.9 479.75 L197.3 474.84 L197.7 473.99 L198.1 478.12 L198.5 477.78 L198.9 481.34 L199.3 481.32 L199.7 478.31 L200.1 481.04 L200.5 480.18 L200.9 481.25 L201.3 481.23 L201.7 481.22 L202.1 481.20 L202.5 476.78 L202.9 481.17 L203.3 477.44 L203.7 477.04 L204.1 474.46 L204.5 478.70 L204.9 475.47 L205.3 473.36 L205.7 473.41 L206.1 473.46 L206.5 473.51 L206.9 480.09 L207.3 473.88 L207.7 474.08 L208.1 473.71 L208.5 473.76 L208.9 474.67 L209.3 477.49 L209.7 480.75 L210.1 476.36 L210.5 476.17 L210.9 480.09 L211.3 475.82 L211.7 476.17 L212.1 476.35 L212.5 474.37 L212.9 476.97 L213.3 481.37 L213.7 481.65 L214.1 481.70 L214.5 481.74 L214.9 481.40 L215.3 475.65 L215.7 475.65 L216.1 477.28 L216.5 477.79 L216.9 476.86 L217.3 475.97 L217.7 479.22 L218.1 476.80 L218.5 482.52 L218.9 480.81 L219.3 481.01 L219.7 480.45 L220.1 483.93 L220.5 484.93 L220.9 485.08 L221.3 485.08 L221.7 485.08 L222.1 485.06 L222.5 484.40 L222.9 485.08 L223.3 485.08 L223.7 485.08 L224.1 485.08 L224.5 485.08 L224.9 485.07 L225.3 484.46 L225.7 483.18 L226.1 484.73 L226.5 484.68 L226.9 484.92 L227.3 484.12 L227.7 484.70 L228.1 484.71 L228.5 483.55 L228.9 484.24 L229.3 484.63 L229.7 483.64 L230.1 481.74 L230.5 483.59 L230.9 481.64 L231.3 482.83 L231.7 484.37 L232.1 485.08 L232.5 484.90 L232.9 484.45 L233.3 484.53 L233.7 484.55 L234.1 484.84 L234.5 484.64 L234.9 482.97 L235.3 481.35 L235.7 481.33 L236.1 482.04 L236.5 482.27 L236.9 484.12 L237.3 485.04 L237.7 484.93 L238.1 483.80 L238.5 483.14 L238.9 483.77 L239.3 484.71 L239.7 483.82 L240.1 484.93 L240.5 485.08 L240.9 484.85 L241.3 485.05 L241.7 485.08 L242.1 484.34 L242.5 485.08 L242.9 485.08 L243.3 484.25 L243.7 482.71 L244.1 485.08 L244.5 484.47 L244.9 484.28 L245.3 484.18 L245.7 484.39 L246.1 485.06 L246.5 483.73 L246.9 485.01 L247.3 485.08 L247.7 483.89 L248.1 484.02 L248.5 483.14 L248.9 480.75 L249.3 485.08 L249.7 483.94 L250.1 482.70 L250.5 481.57 L250.9 483.47 L251.3 484.42 L251.7 484.41 L252.1 484.83 L252.5 483.83 L252.9 483.36 L253.3 482.72 L253.7 480.77 L254.1 480.81 L254.5 483.10 L254.9 481.60 L255.3 482.02 L255.7 482.28 L256.1 483.57 L256.5 481.49 L256.9 481.42 L257.3 481.42 L257.7 481.17 L258.1 481.21 L258.5 481.25 L258.9 483.03 L259.3 481.33 L259.7 483.96 L260.1 481.53 L260.5 482.54 L260.9 484.36 L261.3 484.20 L261.7 484.77 L262.1 485.04 L262.5 485.08 L262.9 483.71 L263.3 481.98 L263.7 482.26 L264.1 481.44 L264.5 481.41 L264.9 481.55 L265.3 481.35 L265.7 481.79 L266.1 481.28 L266.5 481.87 L266.9 481.22 L267.3 481.19 L267.7 483.63 L268.1 481.28 L268.5 481.10 L268.9 481.07 L269.3 482.33 L269.7 483.08 L270.1 483.12 L270.5 480.95 L270.9 482.55 L271.3 484.03 L271.7 484.60 L272.1 482.35 L272.5 485.08 L272.9 484.97 L273.3 485.08 L273.7 484.83 L274.1 484.70 L274.5 485.08 L274.9 485.08 L275.3 485.08 L275.7 484.04 L276.1 481.21 L276.5 481.18 L276.9 480.55 L277.3 484.95 L277.7 484.49 L278.1 485.08 L278.5 484.84 L278.9 484.87 L279.3 484.37 L279.7 483.70 L280.1 484.70 L280.5 482.65 L280.9 483.29 L281.3 484.97 L281.7 483.26 L282.1 482.15 L282.5 480.40 L282.9 480.83 L283.3 480.57 L283.7 480.37 L284.1 480.36 L284.5 480.35 L284.9 480.34 L285.3 480.33 L285.7 480.31 L286.1 485.08 L286.5 484.18 L286.9 485.08 L287.3 485.08 L287.7 485.08 L288.1 485.08 L288.5 485.08 L288.9 485.08 L289.3 485.08 L289.7 485.08 L290.1 482.40 L290.5 484.56 L290.9 483.36 L291.3 482.15 L291.7 482.92 L292.1 481.99 L292.5 484.01 L292.9 483.28 L293.3 481.50 L293.7 482.41 L294.1 484.00 L294.5 483.75 L294.9 485.08 L295.3 484.56 L295.7 481.41 L296.1 480.85 L296.5 483.13 L296.9 482.49 L297.3 481.86 L297.7 484.06 L298.1 485.07 L298.5 485.08 L298.9 485.08 L299.3 484.93 L299.7 485.08 L300.1 485.08 L300.5 485.08 L300.9 482.81 L301.3 485.08 L301.7 483.69 L302.1 482.53 L302.5 484.36 L302.9 485.08 L303.3 484.69 L303.7 484.42 L304.1 484.82 L304.5 485.08 L304.9 485.08 L305.3 485.08 L305.7 485.08 L306.1 483.34 L306.5 484.71 L306.9 485.08 L307.3 485.08 L307.7 485.08 L308.1 484.83 L308.5 484.92 L308.9 484.15 L309.3 484.42 L309.7 484.62 L310.1 483.42 L310.5 485.08 L310.9 485.08 L311.3 485.08 L311.7 485.08 L312.1 485.06 L312.5 485.08 L312.9 484.73 L313.3 484.83 L313.7 485.00 L314.1 485.08 L314.5 485.08 L314.9 485.08 L315.3 485.08 L315.7 484.74 L316.1 485.08 L316.5 485.08 L316.9 485.08 L317.3 485.08 L317.7 485.08 L318.1 485.07 L318.5 484.34 L318.9 483.24 L319.3 484.02 L319.7 481.99 L320.1 483.87 L320.5 484.96 L320.9 485.08 L321.3 485.08 L321.3 485.20 Z" fill="#e3222b" />
<text x="263.00" y="422.30" font-size="7.7" fill="#4a62a6" >H3K27ac</text>
<text x="263.00" y="457.70" font-size="7.5" fill="#d52b2f" >H3K27me3</text>
<rect x="71.30" y="489.70" width="250.00" height="2.90" fill="#c9c9cf" />
<text x="75.00" y="505.70" font-size="7.6" >50 kb</text>
<circle cx="172.6" cy="495.1" r="1.55" fill="#111"/>
<line x1="172.60" y1="495.10" x2="228.00" y2="495.10" stroke="#111" stroke-width="0.6" stroke-dasharray="0.8 1.3"/>
<rect x="218.30" y="493.60" width="0.90" height="3.00" fill="#111" />
<rect x="221.80" y="493.60" width="1.10" height="3.00" fill="#111" />
<rect x="227.80" y="494.20" width="7.60" height="1.90" fill="#111" />
<path d="M227.8 493.2 L230.6 495.1 L227.8 497 Z" fill="#111" />
<rect x="285.00" y="494.20" width="12.60" height="1.90" fill="#111" />
<line x1="297.60" y1="495.10" x2="321.00" y2="495.10" stroke="#111" stroke-width="0.6" stroke-dasharray="0.8 1.3"/>
<rect x="312.20" y="493.60" width="0.90" height="3.00" fill="#111" />
<text x="203.20" y="505.90" font-size="7.2" text-anchor="middle" >DUSP4</text>
</g>
<g id="panelH">
<defs><filter id="bl" x="-20%" y="-100%" width="140%" height="300%"><feGaussianBlur stdDeviation="1.1 0.9"/></filter><filter id="bl2" x="-20%" y="-100%" width="140%" height="300%"><feGaussianBlur stdDeviation="1.6 1.1"/></filter><clipPath id="cp1"><rect x="87.8" y="555.9" width="138.4" height="18.8"/></clipPath><clipPath id="cp2"><rect x="87.8" y="577.4" width="138.4" height="18.6"/></clipPath></defs>
<line x1="95.30" y1="550.20" x2="155.70" y2="550.20" stroke="#111" stroke-width="2.0" />
<line x1="162.60" y1="550.20" x2="222.60" y2="550.20" stroke="#111" stroke-width="2.0" />
<text x="109.8" y="541.0" font-size="7.3" text-anchor="middle" transform="rotate(-45 109.8 541.0)" dy="2.5" stroke="#2b2b2b" stroke-width="0.25">N-1</text>
<text x="129.4" y="541.0" font-size="7.3" text-anchor="middle" transform="rotate(-45 129.4 541.0)" dy="2.5" stroke="#2b2b2b" stroke-width="0.25">N-2</text>
<text x="150.6" y="541.0" font-size="7.3" text-anchor="middle" transform="rotate(-45 150.6 541.0)" dy="2.5" stroke="#2b2b2b" stroke-width="0.25">N-3</text>
<text x="176" y="541.0" font-size="7.3" text-anchor="middle" transform="rotate(-45 176 541.0)" dy="2.5" stroke="#2b2b2b" stroke-width="0.25">T-1</text>
<text x="194.6" y="541.0" font-size="7.3" text-anchor="middle" transform="rotate(-45 194.6 541.0)" dy="2.5" stroke="#2b2b2b" stroke-width="0.25">T-2</text>
<text x="213.8" y="541.0" font-size="7.3" text-anchor="middle" transform="rotate(-45 213.8 541.0)" dy="2.5" stroke="#2b2b2b" stroke-width="0.25">T-3</text>
<rect x="87.80" y="555.90" width="138.40" height="18.80" fill="#b9b9b9" />
<g clip-path="url(#cp1)">
<rect x="87.80" y="555.90" width="138.40" height="4.00" fill="#c2c2c2" filter="url(#bl2)"/>
<rect x="158.00" y="560.00" width="68.00" height="14.00" fill="#adadad" filter="url(#bl2)"/>
<rect x="158.50" y="562.60" width="22.00" height="6.60" fill="#969696" rx="2" filter="url(#bl2)"/>
<rect x="180.80" y="563.60" width="20.80" height="6.60" fill="#969696" rx="2" filter="url(#bl2)"/>
<rect x="202.00" y="564.40" width="24.40" height="6.60" fill="#969696" rx="2" filter="url(#bl2)"/>
<rect x="94.00" y="565.50" width="26.00" height="1.40" fill="#9c9c9c" rx="1.5" filter="url(#bl)"/>
<rect x="124.00" y="566.40" width="14.00" height="1.20" fill="#adadad" rx="1.5" filter="url(#bl)"/>
<rect x="139.50" y="565.80" width="16.30" height="2.80" fill="#585858" rx="1.5" filter="url(#bl)"/>
<rect x="159.50" y="563.60" width="20.00" height="3.20" fill="#262626" rx="1.5" filter="url(#bl)"/>
<rect x="181.80" y="564.65" width="18.80" height="3.10" fill="#2b2b2b" rx="1.5" filter="url(#bl)"/>
<rect x="203.00" y="565.30" width="22.40" height="3.40" fill="#242424" rx="1.5" filter="url(#bl)"/>
</g>
<rect x="87.80" y="577.40" width="138.40" height="18.60" fill="#c4c4c4" />
<g clip-path="url(#cp2)">
<rect x="91.1" y="584.9" width="19.3" height="4.0" rx="2" fill="#1a1a1a" filter="url(#bl)"/>
<rect x="111.6" y="585.1" width="20.8" height="4.0" rx="2" fill="#1a1a1a" filter="url(#bl)"/>
<rect x="133.6" y="585.0" width="21.8" height="4.0" rx="2" fill="#1a1a1a" filter="url(#bl)"/>
<rect x="156.6" y="584.7" width="22.8" height="4.0" rx="2" fill="#1a1a1a" filter="url(#bl)"/>
<rect x="180.6" y="584.4" width="21.8" height="4.0" rx="2" fill="#1a1a1a" filter="url(#bl)"/>
<rect x="203.6" y="583.9" width="20.8" height="4.0" rx="2" fill="#1a1a1a" filter="url(#bl)"/>
<path d="M92 586.9 L122 587.1 L145 587.0 L168 586.7 L191 586.4 L222 585.7" fill="none" stroke="#1c1c1c" stroke-width="1.6" filter="url(#bl)"/>
</g>
<text x="230.90" y="568.70" font-size="7.2" >DUSP4</text>
<text x="230.90" y="587.70" font-size="7.2" >Actin</text>
</g>
<g id="panelI">
<text x="394.50" y="418.10" font-size="7.5" >H3K27Me3 gene list</text>
<text x="420.50" y="429.70" font-size="6.45" ><tspan font-style="italic">P</tspan> = 1.0 × 10<tspan font-size="4.4" dy="-2.7">−17</tspan></text>
<text x="435.00" y="440.90" font-size="6.45" ><tspan font-style="italic">P</tspan> = 1.2 × 10<tspan font-size="4.4" dy="-2.7">−7</tspan></text>
<text x="446.20" y="453.00" font-size="6.45" ><tspan font-style="italic">P</tspan> = 1.2 × 10<tspan font-size="4.4" dy="-2.7">−5</tspan></text>
<path d="M401.3 434.7 L401.3 433.3 Q401.3 432.5 402.1 432.5 L473.7 432.5 Q474.5 432.5 474.5 433.3 L474.5 434.7" fill="none" stroke="#1a1a1a" stroke-width="1.1" />
<path d="M425 447.7 L425 446.3 Q425 445.5 425.8 445.5 L473.7 445.5 Q474.5 445.5 474.5 446.3 L474.5 447.7" fill="none" stroke="#1a1a1a" stroke-width="1.1" />
<path d="M448 457.3 L448 455.90000000000003 Q448 455.1 448.8 455.1 L473.7 455.1 Q474.5 455.1 474.5 455.90000000000003 L474.5 457.3" fill="none" stroke="#1a1a1a" stroke-width="1.1" />
<line x1="376.80" y1="442.00" x2="376.80" y2="565.90" stroke="#1a1a1a" stroke-width="1.0" />
<line x1="376.80" y1="442.50" x2="380.60" y2="442.50" stroke="#1a1a1a" stroke-width="1.0" />
<text x="372.90" y="445.70" font-size="7.55" text-anchor="end" >8,000</text>
<line x1="376.80" y1="473.20" x2="380.60" y2="473.20" stroke="#1a1a1a" stroke-width="1.0" />
<text x="372.90" y="476.40" font-size="7.55" text-anchor="end" >4,000</text>
<line x1="376.80" y1="503.80" x2="380.60" y2="503.80" stroke="#1a1a1a" stroke-width="1.0" />
<text x="372.90" y="507.00" font-size="7.55" text-anchor="end" >0</text>
<line x1="376.80" y1="534.40" x2="380.60" y2="534.40" stroke="#1a1a1a" stroke-width="1.0" />
<text x="372.90" y="537.60" font-size="7.55" text-anchor="end" >−4,000</text>
<line x1="376.80" y1="565.40" x2="380.60" y2="565.40" stroke="#1a1a1a" stroke-width="1.0" />
<text x="372.90" y="566.10" font-size="7.55" text-anchor="end" >−8,000</text>
<line x1="376.30" y1="565.40" x2="493.80" y2="565.40" stroke="#1a1a1a" stroke-width="1.0" />
<line x1="400.50" y1="561.20" x2="400.50" y2="565.40" stroke="#1a1a1a" stroke-width="1.0" />
<line x1="425.40" y1="561.20" x2="425.40" y2="565.40" stroke="#1a1a1a" stroke-width="1.0" />
<line x1="449.80" y1="561.20" x2="449.80" y2="565.40" stroke="#1a1a1a" stroke-width="1.0" />
<line x1="474.50" y1="561.20" x2="474.50" y2="565.40" stroke="#1a1a1a" stroke-width="1.0" />
<line x1="401.05" y1="452.50" x2="401.05" y2="456.30" stroke="#38388e" stroke-width="1.1" />
<line x1="401.05" y1="465.50" x2="401.05" y2="471.30" stroke="#38388e" stroke-width="1.1" />
<line x1="399.85" y1="452.50" x2="402.25" y2="452.50" stroke="#38388e" stroke-width="1.1" />
<line x1="399.85" y1="471.30" x2="402.25" y2="471.30" stroke="#38388e" stroke-width="1.1" />
<rect x="395.80" y="456.30" width="10.50" height="9.20" fill="#fff" stroke="#38388e" stroke-width="1.15" />
<line x1="395.80" y1="461.20" x2="406.30" y2="461.20" stroke="#38388e" stroke-width="1.15" />
<line x1="425.65" y1="462.00" x2="425.65" y2="482.50" stroke="#38388e" stroke-width="1.1" />
<line x1="425.65" y1="501.30" x2="425.65" y2="520.50" stroke="#38388e" stroke-width="1.1" />
<line x1="424.45" y1="462.00" x2="426.85" y2="462.00" stroke="#38388e" stroke-width="1.1" />
<line x1="424.45" y1="520.50" x2="426.85" y2="520.50" stroke="#38388e" stroke-width="1.1" />
<rect x="420.30" y="482.50" width="10.70" height="18.80" fill="#fff" stroke="#38388e" stroke-width="1.15" />
<line x1="420.30" y1="492.90" x2="431.00" y2="492.90" stroke="#38388e" stroke-width="1.15" />
<line x1="449.90" y1="472.00" x2="449.90" y2="480.00" stroke="#38388e" stroke-width="1.1" />
<line x1="449.90" y1="497.00" x2="449.90" y2="515.30" stroke="#38388e" stroke-width="1.1" />
<line x1="448.70" y1="472.00" x2="451.10" y2="472.00" stroke="#38388e" stroke-width="1.1" />
<line x1="448.70" y1="515.30" x2="451.10" y2="515.30" stroke="#38388e" stroke-width="1.1" />
<rect x="444.50" y="480.00" width="10.80" height="17.00" fill="#fff" stroke="#38388e" stroke-width="1.15" />
<line x1="444.50" y1="488.30" x2="455.30" y2="488.30" stroke="#38388e" stroke-width="1.15" />
<line x1="474.75" y1="482.50" x2="474.75" y2="501.50" stroke="#38388e" stroke-width="1.1" />
<line x1="474.75" y1="520.70" x2="474.75" y2="542.50" stroke="#38388e" stroke-width="1.1" />
<line x1="473.55" y1="482.50" x2="475.95" y2="482.50" stroke="#38388e" stroke-width="1.1" />
<line x1="473.55" y1="542.50" x2="475.95" y2="542.50" stroke="#38388e" stroke-width="1.1" />
<rect x="469.50" y="501.50" width="10.50" height="19.20" fill="#fff" stroke="#38388e" stroke-width="1.15" />
<line x1="469.50" y1="510.80" x2="480.00" y2="510.80" stroke="#38388e" stroke-width="1.15" />
<text x="400.50" y="573.80" font-size="7" text-anchor="middle" >Normal</text>
<text x="426.00" y="573.80" font-size="7" text-anchor="middle" >KRAS</text>
<text x="450.00" y="573.80" font-size="7" text-anchor="middle" >EGFR</text>
<text x="475.00" y="573.80" font-size="7" text-anchor="middle" >High</text>
<text x="475.00" y="582.20" font-size="7" text-anchor="middle" >EZH2</text>
<text x="342.90" y="504.50" font-size="7.4" text-anchor="middle" transform="rotate(-90 342.90 504.50)" >Relative score</text>
</g>
</svg></body></html>
